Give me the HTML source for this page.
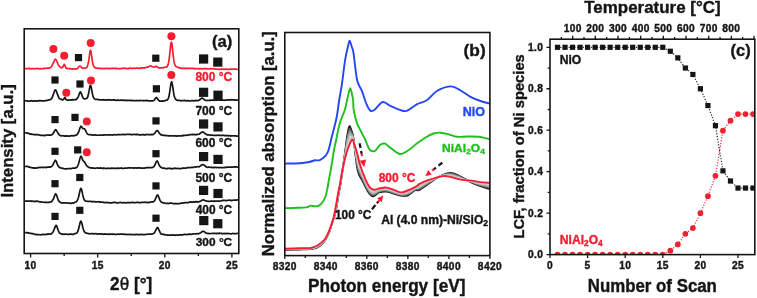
<!DOCTYPE html>
<html><head><meta charset="utf-8"><style>
html,body{margin:0;padding:0;background:#fff;}
body{width:757px;height:298px;overflow:hidden;}
svg{display:block;will-change:transform;}
.tk{stroke:#151515;stroke-width:0.4px;letter-spacing:0.35px;}
text{font-family:'Liberation Sans',sans-serif;font-weight:bold;}
</style></head><body>
<svg fill="#151515" width="757" height="298" viewBox="0 0 757 298">
<g fill="none" stroke-width="1.7" stroke-linejoin="round">
<path d="M25.00,68.54 L25.50,68.61 L25.99,68.57 L26.49,68.65 L26.98,68.70 L27.48,68.49 L27.97,68.34 L28.47,68.63 L28.96,68.53 L29.46,68.46 L29.95,68.76 L30.45,68.69 L30.94,68.81 L31.44,68.72 L31.93,68.74 L32.43,68.53 L32.93,68.63 L33.42,68.79 L33.92,68.72 L34.41,68.77 L34.91,68.77 L35.40,68.50 L35.90,68.66 L36.39,68.67 L36.89,68.54 L37.38,68.35 L37.88,68.61 L38.37,68.58 L38.87,68.67 L39.37,68.78 L39.86,68.77 L40.36,68.85 L40.85,68.65 L41.35,68.72 L41.84,68.59 L42.34,68.73 L42.83,68.78 L43.33,68.45 L43.82,68.28 L44.32,68.21 L44.81,68.49 L45.31,68.40 L45.80,68.41 L46.30,68.26 L46.80,68.25 L47.29,68.16 L47.79,68.07 L48.28,68.08 L48.78,68.02 L49.27,68.05 L49.77,67.86 L50.26,67.70 L50.76,67.35 L51.25,66.93 L51.75,66.18 L52.24,65.07 L52.74,64.24 L53.23,63.24 L53.73,62.09 L54.23,60.83 L54.72,59.91 L55.22,59.21 L55.71,59.44 L56.21,60.04 L56.70,60.89 L57.20,61.90 L57.69,63.35 L58.19,64.66 L58.68,65.32 L59.18,66.26 L59.67,66.79 L60.17,67.08 L60.67,67.37 L61.16,67.76 L61.66,67.99 L62.15,67.61 L62.65,67.30 L63.14,66.28 L63.64,65.30 L64.13,64.33 L64.63,64.80 L65.12,66.16 L65.62,67.23 L66.11,68.19 L66.61,68.40 L67.10,68.39 L67.60,68.61 L68.10,68.49 L68.59,68.51 L69.09,68.62 L69.58,68.79 L70.08,68.68 L70.57,68.58 L71.07,68.89 L71.56,68.82 L72.06,69.07 L72.55,69.17 L73.05,69.00 L73.54,68.94 L74.04,68.92 L74.53,68.96 L75.03,68.95 L75.53,68.90 L76.02,68.87 L76.52,68.94 L77.01,68.69 L77.51,68.35 L78.00,68.04 L78.50,67.33 L78.99,66.62 L79.49,66.33 L79.98,66.09 L80.48,66.37 L80.97,66.69 L81.47,67.30 L81.97,67.84 L82.46,67.93 L82.96,68.24 L83.45,68.38 L83.95,68.17 L84.44,68.26 L84.94,68.18 L85.43,68.15 L85.93,67.87 L86.42,67.68 L86.92,67.25 L87.41,66.13 L87.91,64.57 L88.40,62.56 L88.90,59.72 L89.40,55.81 L89.89,52.20 L90.39,50.24 L90.88,50.93 L91.38,53.96 L91.87,57.71 L92.37,61.13 L92.86,63.83 L93.36,65.51 L93.85,66.57 L94.35,67.37 L94.84,67.50 L95.34,67.83 L95.83,68.12 L96.33,68.12 L96.83,68.10 L97.32,68.36 L97.82,68.27 L98.31,68.22 L98.81,68.30 L99.30,68.47 L99.80,68.31 L100.29,68.32 L100.79,68.34 L101.28,68.57 L101.78,68.52 L102.27,68.68 L102.77,68.47 L103.27,68.42 L103.76,68.53 L104.26,68.70 L104.75,68.60 L105.25,68.44 L105.74,68.31 L106.24,68.41 L106.73,68.32 L107.23,68.54 L107.72,68.67 L108.22,68.45 L108.71,68.37 L109.21,68.56 L109.70,68.59 L110.20,68.67 L110.70,68.51 L111.19,68.33 L111.69,68.30 L112.18,68.50 L112.68,68.38 L113.17,68.35 L113.67,68.36 L114.16,68.36 L114.66,68.36 L115.15,68.58 L115.65,68.37 L116.14,68.18 L116.64,68.49 L117.13,68.64 L117.63,68.76 L118.13,68.59 L118.62,68.72 L119.12,68.78 L119.61,68.50 L120.11,68.58 L120.60,68.67 L121.10,68.63 L121.59,68.55 L122.09,68.41 L122.58,68.35 L123.08,68.26 L123.57,68.14 L124.07,68.30 L124.57,68.26 L125.06,68.46 L125.56,68.23 L126.05,68.48 L126.55,68.52 L127.04,68.64 L127.54,68.69 L128.03,68.71 L128.53,68.58 L129.02,68.25 L129.52,68.39 L130.01,68.21 L130.51,68.16 L131.00,68.29 L131.50,68.30 L132.00,68.25 L132.49,68.44 L132.99,68.40 L133.48,68.26 L133.98,68.13 L134.47,68.33 L134.97,68.26 L135.46,68.35 L135.96,68.21 L136.45,68.06 L136.95,68.12 L137.44,68.27 L137.94,68.06 L138.43,68.22 L138.93,68.36 L139.43,68.38 L139.92,68.39 L140.42,68.03 L140.91,68.10 L141.41,68.24 L141.90,67.95 L142.40,67.88 L142.89,67.84 L143.39,67.91 L143.88,67.90 L144.38,67.89 L144.87,67.99 L145.37,67.67 L145.87,67.47 L146.36,67.32 L146.86,67.15 L147.35,66.93 L147.85,67.08 L148.34,66.98 L148.84,66.47 L149.33,66.27 L149.83,66.04 L150.32,65.94 L150.82,66.00 L151.31,66.30 L151.81,66.57 L152.30,66.74 L152.80,66.84 L153.30,67.00 L153.79,66.99 L154.29,67.10 L154.78,67.10 L155.28,66.79 L155.77,66.39 L156.27,66.27 L156.76,66.52 L157.26,66.98 L157.75,67.45 L158.25,67.58 L158.74,67.86 L159.24,67.94 L159.73,67.89 L160.23,67.83 L160.73,67.84 L161.22,67.92 L161.72,67.83 L162.21,67.89 L162.71,67.79 L163.20,67.62 L163.70,67.61 L164.19,67.64 L164.69,67.32 L165.18,67.24 L165.68,67.10 L166.17,67.09 L166.67,66.92 L167.17,66.27 L167.66,65.63 L168.16,64.38 L168.65,62.14 L169.15,59.12 L169.64,54.92 L170.14,50.31 L170.63,45.56 L171.13,42.39 L171.62,42.25 L172.12,45.26 L172.61,50.02 L173.11,54.82 L173.60,58.72 L174.10,61.91 L174.60,63.82 L175.09,65.11 L175.59,66.19 L176.08,66.52 L176.58,66.77 L177.07,66.96 L177.57,67.46 L178.06,67.46 L178.56,67.43 L179.05,67.81 L179.55,67.72 L180.04,68.01 L180.54,68.12 L181.03,68.27 L181.53,68.41 L182.03,68.34 L182.52,68.41 L183.02,68.13 L183.51,68.30 L184.01,68.29 L184.50,68.39 L185.00,68.18 L185.49,68.35 L185.99,68.54 L186.48,68.26 L186.98,68.23 L187.47,68.33 L187.97,68.50 L188.47,68.35 L188.96,68.24 L189.46,68.22 L189.95,68.37 L190.45,68.52 L190.94,68.45 L191.44,68.40 L191.93,68.40 L192.43,68.38 L192.92,68.40 L193.42,68.27 L193.91,68.39 L194.41,68.67 L194.90,68.58 L195.40,68.68 L195.90,68.48 L196.39,68.62 L196.89,68.72 L197.38,68.75 L197.88,68.70 L198.37,68.66 L198.87,68.72 L199.36,68.86 L199.86,68.62 L200.35,68.47 L200.85,68.68 L201.34,68.87 L201.84,68.81 L202.33,68.74 L202.83,68.84 L203.33,68.66 L203.82,68.60 L204.32,68.54 L204.81,68.69 L205.31,68.65 L205.80,68.60 L206.30,68.78 L206.79,69.00 L207.29,68.84 L207.78,68.94 L208.28,68.86 L208.77,69.02 L209.27,69.00 L209.77,68.85 L210.26,68.75 L210.76,68.62 L211.25,68.75 L211.75,68.79 L212.24,68.72 L212.74,68.77 L213.23,68.78 L213.73,69.00 L214.22,68.84 L214.72,69.13 L215.21,69.07 L215.71,69.10 L216.20,69.06 L216.70,69.20 L217.20,69.28 L217.69,69.21 L218.19,69.14 L218.68,69.22 L219.18,69.32 L219.67,69.18 L220.17,69.25 L220.66,69.40 L221.16,69.27 L221.65,69.09 L222.15,69.00 L222.64,69.17 L223.14,69.25 L223.63,69.42 L224.13,69.47 L224.63,69.23 L225.12,69.08 L225.62,69.03 L226.11,68.97 L226.61,69.17 L227.10,69.35 L227.60,69.47 L228.09,69.26 L228.59,69.41 L229.08,69.25 L229.58,69.22 L230.07,69.33 L230.57,69.12 L231.07,69.00 L231.56,69.27 L232.06,69.18 L232.55,69.16 L233.05,69.25 L233.54,69.34 L234.04,69.09 L234.53,69.11 L235.03,69.16 L235.52,69.21 L236.02,69.12 L236.51,69.23 L237.01,69.46 L237.50,69.33 L238.00,69.33" stroke="#f71d31"/>
<path d="M25.00,101.04 L25.50,100.92 L25.99,100.97 L26.49,100.90 L26.98,100.81 L27.48,100.90 L27.97,101.18 L28.47,101.27 L28.96,101.30 L29.46,101.07 L29.95,101.07 L30.45,100.95 L30.94,100.83 L31.44,100.72 L31.93,100.71 L32.43,101.00 L32.93,101.11 L33.42,101.15 L33.92,101.17 L34.41,100.90 L34.91,100.79 L35.40,100.87 L35.90,100.95 L36.39,101.05 L36.89,101.10 L37.38,100.78 L37.88,100.83 L38.37,100.88 L38.87,100.83 L39.37,100.66 L39.86,100.69 L40.36,100.53 L40.85,100.81 L41.35,100.93 L41.84,100.85 L42.34,100.69 L42.83,100.86 L43.33,100.79 L43.82,100.88 L44.32,100.91 L44.81,100.76 L45.31,100.62 L45.80,100.61 L46.30,100.50 L46.80,100.31 L47.29,100.24 L47.79,100.39 L48.28,100.09 L48.78,99.88 L49.27,99.95 L49.77,99.75 L50.26,99.60 L50.76,99.30 L51.25,98.79 L51.75,98.40 L52.24,97.32 L52.74,96.18 L53.23,94.73 L53.73,93.35 L54.23,91.75 L54.72,90.46 L55.22,89.92 L55.71,89.92 L56.21,90.82 L56.70,92.34 L57.20,93.60 L57.69,94.90 L58.19,96.15 L58.68,97.41 L59.18,98.25 L59.67,98.68 L60.17,99.04 L60.67,99.21 L61.16,99.45 L61.66,99.41 L62.15,99.66 L62.65,99.82 L63.14,99.75 L63.64,99.27 L64.13,98.62 L64.63,97.62 L65.12,97.70 L65.62,98.72 L66.11,99.49 L66.61,99.78 L67.10,100.14 L67.60,100.17 L68.10,100.27 L68.59,100.09 L69.09,99.95 L69.58,99.98 L70.08,99.86 L70.57,99.90 L71.07,100.17 L71.56,100.04 L72.06,99.81 L72.55,99.69 L73.05,99.67 L73.54,99.91 L74.04,99.84 L74.53,99.74 L75.03,99.55 L75.53,99.79 L76.02,99.58 L76.52,99.21 L77.01,98.71 L77.51,98.06 L78.00,97.23 L78.50,96.32 L78.99,94.83 L79.49,93.27 L79.98,92.27 L80.48,91.87 L80.97,92.79 L81.47,93.81 L81.97,95.27 L82.46,96.67 L82.96,97.57 L83.45,98.45 L83.95,98.76 L84.44,98.82 L84.94,98.89 L85.43,98.70 L85.93,98.66 L86.42,98.39 L86.92,98.22 L87.41,97.61 L87.91,96.34 L88.40,94.32 L88.90,91.93 L89.40,89.17 L89.89,86.59 L90.39,85.19 L90.88,86.01 L91.38,87.99 L91.87,90.60 L92.37,93.49 L92.86,95.55 L93.36,97.20 L93.85,97.99 L94.35,98.70 L94.84,99.01 L95.34,99.27 L95.83,99.41 L96.33,99.41 L96.83,99.25 L97.32,99.23 L97.82,99.53 L98.31,99.72 L98.81,99.85 L99.30,99.67 L99.80,99.73 L100.29,99.83 L100.79,99.83 L101.28,99.91 L101.78,99.83 L102.27,99.85 L102.77,99.89 L103.27,99.72 L103.76,99.93 L104.26,100.06 L104.75,99.75 L105.25,99.98 L105.74,100.11 L106.24,100.06 L106.73,99.76 L107.23,99.98 L107.72,99.76 L108.22,100.02 L108.71,100.04 L109.21,99.78 L109.70,99.70 L110.20,99.86 L110.70,99.93 L111.19,100.05 L111.69,100.20 L112.18,99.98 L112.68,99.77 L113.17,100.06 L113.67,99.83 L114.16,100.09 L114.66,99.90 L115.15,100.11 L115.65,100.22 L116.14,100.33 L116.64,100.25 L117.13,100.36 L117.63,100.13 L118.13,100.21 L118.62,100.12 L119.12,100.32 L119.61,100.38 L120.11,100.29 L120.60,100.27 L121.10,100.05 L121.59,99.94 L122.09,100.13 L122.58,100.19 L123.08,100.40 L123.57,100.41 L124.07,100.21 L124.57,100.21 L125.06,100.39 L125.56,100.39 L126.05,100.17 L126.55,100.42 L127.04,100.56 L127.54,100.31 L128.03,100.39 L128.53,100.36 L129.02,100.53 L129.52,100.42 L130.01,100.33 L130.51,100.40 L131.00,100.65 L131.50,100.41 L132.00,100.29 L132.49,100.45 L132.99,100.66 L133.48,100.62 L133.98,100.56 L134.47,100.72 L134.97,100.78 L135.46,100.50 L135.96,100.71 L136.45,100.52 L136.95,100.47 L137.44,100.68 L137.94,100.61 L138.43,100.75 L138.93,100.54 L139.43,100.74 L139.92,100.55 L140.42,100.43 L140.91,100.51 L141.41,100.49 L141.90,100.57 L142.40,100.77 L142.89,100.80 L143.39,100.50 L143.88,100.47 L144.38,100.55 L144.87,100.57 L145.37,100.69 L145.87,100.66 L146.36,100.46 L146.86,100.44 L147.35,100.70 L147.85,100.63 L148.34,100.78 L148.84,100.97 L149.33,100.92 L149.83,100.93 L150.32,100.91 L150.82,100.77 L151.31,100.96 L151.81,100.86 L152.30,100.98 L152.80,100.74 L153.30,100.77 L153.79,100.57 L154.29,100.12 L154.78,99.41 L155.28,98.47 L155.77,97.93 L156.27,97.52 L156.76,97.90 L157.26,98.45 L157.75,99.13 L158.25,99.76 L158.74,100.50 L159.24,100.66 L159.73,101.08 L160.23,101.07 L160.73,101.15 L161.22,101.09 L161.72,101.16 L162.21,100.96 L162.71,100.97 L163.20,101.18 L163.70,100.94 L164.19,100.98 L164.69,100.81 L165.18,100.66 L165.68,100.38 L166.17,100.12 L166.67,100.25 L167.17,100.06 L167.66,99.59 L168.16,98.78 L168.65,97.53 L169.15,95.24 L169.64,92.54 L170.14,89.16 L170.63,85.60 L171.13,82.83 L171.62,81.73 L172.12,83.11 L172.61,85.80 L173.11,89.40 L173.60,92.70 L174.10,95.36 L174.60,97.21 L175.09,98.54 L175.59,99.13 L176.08,99.78 L176.58,99.93 L177.07,100.14 L177.57,100.41 L178.06,100.49 L178.56,100.39 L179.05,100.32 L179.55,100.33 L180.04,100.49 L180.54,100.74 L181.03,100.85 L181.53,100.70 L182.03,100.62 L182.52,100.77 L183.02,100.63 L183.51,100.61 L184.01,100.43 L184.50,100.42 L185.00,100.57 L185.49,100.72 L185.99,100.77 L186.48,100.70 L186.98,100.91 L187.47,100.89 L187.97,100.67 L188.47,100.51 L188.96,100.82 L189.46,101.00 L189.95,101.06 L190.45,100.96 L190.94,100.77 L191.44,100.57 L191.93,100.52 L192.43,100.48 L192.92,100.76 L193.42,100.90 L193.91,100.92 L194.41,100.64 L194.90,100.52 L195.40,100.47 L195.90,100.72 L196.39,100.50 L196.89,100.63 L197.38,100.63 L197.88,100.53 L198.37,100.60 L198.87,100.24 L199.36,100.04 L199.86,99.61 L200.35,99.17 L200.85,98.71 L201.34,98.43 L201.84,98.13 L202.33,98.02 L202.83,98.55 L203.33,98.75 L203.82,99.30 L204.32,99.66 L204.81,99.95 L205.31,100.14 L205.80,100.40 L206.30,100.52 L206.79,100.53 L207.29,100.46 L207.78,100.48 L208.28,100.50 L208.77,100.43 L209.27,100.37 L209.77,100.18 L210.26,100.37 L210.76,100.32 L211.25,100.10 L211.75,100.02 L212.24,100.28 L212.74,100.14 L213.23,100.12 L213.73,100.24 L214.22,100.37 L214.72,100.20 L215.21,100.13 L215.71,100.10 L216.20,99.91 L216.70,100.17 L217.20,99.92 L217.69,100.20 L218.19,99.99 L218.68,99.87 L219.18,100.10 L219.67,100.22 L220.17,100.01 L220.66,100.04 L221.16,100.01 L221.65,100.10 L222.15,99.90 L222.64,100.07 L223.14,100.24 L223.63,100.20 L224.13,100.26 L224.63,100.30 L225.12,100.07 L225.62,100.15 L226.11,100.18 L226.61,100.09 L227.10,99.82 L227.60,99.89 L228.09,100.06 L228.59,99.88 L229.08,99.93 L229.58,100.06 L230.07,100.00 L230.57,99.72 L231.07,99.82 L231.56,99.71 L232.06,99.91 L232.55,99.94 L233.05,99.79 L233.54,99.97 L234.04,99.94 L234.53,99.81 L235.03,99.95 L235.52,100.05 L236.02,100.10 L236.51,100.13 L237.01,100.04 L237.50,100.02 L238.00,99.96" stroke="#151515"/>
<path d="M25.00,132.63 L25.50,132.73 L25.99,132.84 L26.49,133.02 L26.98,133.09 L27.48,133.28 L27.97,133.07 L28.47,133.23 L28.96,133.61 L29.46,133.77 L29.95,134.05 L30.45,133.94 L30.94,134.10 L31.44,134.15 L31.93,134.36 L32.43,134.52 L32.93,134.38 L33.42,134.40 L33.92,134.43 L34.41,134.72 L34.91,134.82 L35.40,134.62 L35.90,134.81 L36.39,134.64 L36.89,134.78 L37.38,134.66 L37.88,134.57 L38.37,134.92 L38.87,134.85 L39.37,134.83 L39.86,135.18 L40.36,135.35 L40.85,135.20 L41.35,135.43 L41.84,135.38 L42.34,135.42 L42.83,135.24 L43.33,135.47 L43.82,135.47 L44.32,135.59 L44.81,135.62 L45.31,135.38 L45.80,135.26 L46.30,135.11 L46.80,135.02 L47.29,134.93 L47.79,134.98 L48.28,135.13 L48.78,134.94 L49.27,135.12 L49.77,135.05 L50.26,134.97 L50.76,135.10 L51.25,134.95 L51.75,134.66 L52.24,134.39 L52.74,134.05 L53.23,133.21 L53.73,132.70 L54.23,131.51 L54.72,130.74 L55.22,130.15 L55.71,129.60 L56.21,130.12 L56.70,130.82 L57.20,131.85 L57.69,132.60 L58.19,133.32 L58.68,133.97 L59.18,134.79 L59.67,134.98 L60.17,135.37 L60.67,135.69 L61.16,135.90 L61.66,135.77 L62.15,135.72 L62.65,135.78 L63.14,135.94 L63.64,135.75 L64.13,135.93 L64.63,136.07 L65.12,136.17 L65.62,135.88 L66.11,136.12 L66.61,135.88 L67.10,135.86 L67.60,135.96 L68.10,136.16 L68.59,136.00 L69.09,136.17 L69.58,136.09 L70.08,135.94 L70.57,135.84 L71.07,135.72 L71.56,135.59 L72.06,135.54 L72.55,135.72 L73.05,135.93 L73.54,135.66 L74.04,135.42 L74.53,135.66 L75.03,135.54 L75.53,135.35 L76.02,135.06 L76.52,134.92 L77.01,134.71 L77.51,134.11 L78.00,133.30 L78.50,132.09 L78.99,131.09 L79.49,129.39 L79.98,127.98 L80.48,126.97 L80.97,126.20 L81.47,126.53 L81.97,127.36 L82.46,128.04 L82.96,128.63 L83.45,128.65 L83.95,128.77 L84.44,128.85 L84.94,129.58 L85.43,130.25 L85.93,131.18 L86.42,132.33 L86.92,133.18 L87.41,133.89 L87.91,134.16 L88.40,134.40 L88.90,134.67 L89.40,134.73 L89.89,134.69 L90.39,134.74 L90.88,134.66 L91.38,134.72 L91.87,135.04 L92.37,135.20 L92.86,135.16 L93.36,135.08 L93.85,134.97 L94.35,134.81 L94.84,134.81 L95.34,135.04 L95.83,135.20 L96.33,135.08 L96.83,135.19 L97.32,135.25 L97.82,135.25 L98.31,135.24 L98.81,135.27 L99.30,135.11 L99.80,135.17 L100.29,135.01 L100.79,135.01 L101.28,135.13 L101.78,135.16 L102.27,134.99 L102.77,135.18 L103.27,135.15 L103.76,135.10 L104.26,134.81 L104.75,134.88 L105.25,134.78 L105.74,134.90 L106.24,134.87 L106.73,135.00 L107.23,134.99 L107.72,135.05 L108.22,134.87 L108.71,134.90 L109.21,134.94 L109.70,135.00 L110.20,134.82 L110.70,134.92 L111.19,134.99 L111.69,134.94 L112.18,135.03 L112.68,135.06 L113.17,134.89 L113.67,134.79 L114.16,134.57 L114.66,134.74 L115.15,134.87 L115.65,134.74 L116.14,134.76 L116.64,134.78 L117.13,134.79 L117.63,134.55 L118.13,134.68 L118.62,134.67 L119.12,134.70 L119.61,134.60 L120.11,134.64 L120.60,134.73 L121.10,134.72 L121.59,134.75 L122.09,134.46 L122.58,134.36 L123.08,134.43 L123.57,134.57 L124.07,134.45 L124.57,134.59 L125.06,134.65 L125.56,134.42 L126.05,134.48 L126.55,134.41 L127.04,134.30 L127.54,134.27 L128.03,134.34 L128.53,134.32 L129.02,134.31 L129.52,134.24 L130.01,134.39 L130.51,134.44 L131.00,134.57 L131.50,134.63 L132.00,134.51 L132.49,134.74 L132.99,134.47 L133.48,134.50 L133.98,134.46 L134.47,134.50 L134.97,134.40 L135.46,134.65 L135.96,134.59 L136.45,134.41 L136.95,134.57 L137.44,134.43 L137.94,134.55 L138.43,134.52 L138.93,134.62 L139.43,134.83 L139.92,134.89 L140.42,134.75 L140.91,134.84 L141.41,134.82 L141.90,134.68 L142.40,134.51 L142.89,134.61 L143.39,134.65 L143.88,134.84 L144.38,134.95 L144.87,134.85 L145.37,134.69 L145.87,134.83 L146.36,134.52 L146.86,134.40 L147.35,134.53 L147.85,134.62 L148.34,134.47 L148.84,134.60 L149.33,134.78 L149.83,134.65 L150.32,134.60 L150.82,134.48 L151.31,134.42 L151.81,134.67 L152.30,134.50 L152.80,134.60 L153.30,134.53 L153.79,134.18 L154.29,133.60 L154.78,133.29 L155.28,132.54 L155.77,131.72 L156.27,130.93 L156.76,130.70 L157.26,130.56 L157.75,130.82 L158.25,131.53 L158.74,132.17 L159.24,133.06 L159.73,133.68 L160.23,134.09 L160.73,134.62 L161.22,134.99 L161.72,134.87 L162.21,135.06 L162.71,135.07 L163.20,135.40 L163.70,135.53 L164.19,135.38 L164.69,135.33 L165.18,135.27 L165.68,135.63 L166.17,135.53 L166.67,135.63 L167.17,135.64 L167.66,135.73 L168.16,135.78 L168.65,135.88 L169.15,135.67 L169.64,135.85 L170.14,135.75 L170.63,135.81 L171.13,135.76 L171.62,135.73 L172.12,135.82 L172.61,135.85 L173.11,135.82 L173.60,135.98 L174.10,136.00 L174.60,135.78 L175.09,135.75 L175.59,135.82 L176.08,136.07 L176.58,136.19 L177.07,136.11 L177.57,135.83 L178.06,136.00 L178.56,135.93 L179.05,135.95 L179.55,136.01 L180.04,135.99 L180.54,135.89 L181.03,136.01 L181.53,135.82 L182.03,135.70 L182.52,135.81 L183.02,135.56 L183.51,135.44 L184.01,135.58 L184.50,135.30 L185.00,135.45 L185.49,135.45 L185.99,135.30 L186.48,135.13 L186.98,135.22 L187.47,135.31 L187.97,134.99 L188.47,134.93 L188.96,134.91 L189.46,134.85 L189.95,134.73 L190.45,134.56 L190.94,134.64 L191.44,134.77 L191.93,134.49 L192.43,134.40 L192.92,134.60 L193.42,134.69 L193.91,134.67 L194.41,134.37 L194.90,134.51 L195.40,134.69 L195.90,134.80 L196.39,134.71 L196.89,134.36 L197.38,134.49 L197.88,134.25 L198.37,134.24 L198.87,134.28 L199.36,134.08 L199.86,133.55 L200.35,133.15 L200.85,133.00 L201.34,132.40 L201.84,132.17 L202.33,131.97 L202.83,131.90 L203.33,132.31 L203.82,132.53 L204.32,132.90 L204.81,133.39 L205.31,133.66 L205.80,133.90 L206.30,134.31 L206.79,134.66 L207.29,134.95 L207.78,134.80 L208.28,134.87 L208.77,134.87 L209.27,135.02 L209.77,135.07 L210.26,135.30 L210.76,135.20 L211.25,135.01 L211.75,135.21 L212.24,135.08 L212.74,135.23 L213.23,135.27 L213.73,135.47 L214.22,135.44 L214.72,135.45 L215.21,135.30 L215.71,135.35 L216.20,135.25 L216.70,135.41 L217.20,135.40 L217.69,135.23 L218.19,135.18 L218.68,135.22 L219.18,135.40 L219.67,135.26 L220.17,135.43 L220.66,135.50 L221.16,135.29 L221.65,135.45 L222.15,135.28 L222.64,135.22 L223.14,135.39 L223.63,135.34 L224.13,135.61 L224.63,135.59 L225.12,135.52 L225.62,135.70 L226.11,135.47 L226.61,135.66 L227.10,135.48 L227.60,135.43 L228.09,135.77 L228.59,135.85 L229.08,135.70 L229.58,135.58 L230.07,135.90 L230.57,135.95 L231.07,136.05 L231.56,135.82 L232.06,135.91 L232.55,135.85 L233.05,135.77 L233.54,135.77 L234.04,135.91 L234.53,135.87 L235.03,135.86 L235.52,135.76 L236.02,136.01 L236.51,136.06 L237.01,136.17 L237.50,136.06 L238.00,136.18" stroke="#151515"/>
<path d="M25.00,166.40 L25.50,166.50 L25.99,166.43 L26.49,166.34 L26.98,166.22 L27.48,166.50 L27.97,166.64 L28.47,166.91 L28.96,166.95 L29.46,167.22 L29.95,167.21 L30.45,167.50 L30.94,167.68 L31.44,167.69 L31.93,167.79 L32.43,167.94 L32.93,167.82 L33.42,167.92 L33.92,168.08 L34.41,167.91 L34.91,168.05 L35.40,168.06 L35.90,168.12 L36.39,167.92 L36.89,167.67 L37.38,167.83 L37.88,167.90 L38.37,167.75 L38.87,167.50 L39.37,167.38 L39.86,167.48 L40.36,167.37 L40.85,167.58 L41.35,167.51 L41.84,167.29 L42.34,167.36 L42.83,167.26 L43.33,167.45 L43.82,167.54 L44.32,167.41 L44.81,167.40 L45.31,167.41 L45.80,167.46 L46.30,167.56 L46.80,167.20 L47.29,167.14 L47.79,167.21 L48.28,167.11 L48.78,167.17 L49.27,166.97 L49.77,167.18 L50.26,167.09 L50.76,166.79 L51.25,166.74 L51.75,166.35 L52.24,165.78 L52.74,165.18 L53.23,164.16 L53.73,163.02 L54.23,162.10 L54.72,161.12 L55.22,160.28 L55.71,160.62 L56.21,161.22 L56.70,162.44 L57.20,163.97 L57.69,165.13 L58.19,165.94 L58.68,166.60 L59.18,167.09 L59.67,167.32 L60.17,167.87 L60.67,167.80 L61.16,167.96 L61.66,168.21 L62.15,168.23 L62.65,168.52 L63.14,168.37 L63.64,168.64 L64.13,168.76 L64.63,168.74 L65.12,168.84 L65.62,168.71 L66.11,168.81 L66.61,168.86 L67.10,168.77 L67.60,168.70 L68.10,168.76 L68.59,168.66 L69.09,168.45 L69.58,168.63 L70.08,168.50 L70.57,168.52 L71.07,168.64 L71.56,168.43 L72.06,168.22 L72.55,168.13 L73.05,168.26 L73.54,168.20 L74.04,168.09 L74.53,168.06 L75.03,168.19 L75.53,167.88 L76.02,167.65 L76.52,167.54 L77.01,167.08 L77.51,166.24 L78.00,165.26 L78.50,163.94 L78.99,162.11 L79.49,160.21 L79.98,158.26 L80.48,156.94 L80.97,156.21 L81.47,156.72 L81.97,158.02 L82.46,159.40 L82.96,160.30 L83.45,161.07 L83.95,161.46 L84.44,161.90 L84.94,162.56 L85.43,163.55 L85.93,164.61 L86.42,165.28 L86.92,165.79 L87.41,166.44 L87.91,166.74 L88.40,166.97 L88.90,167.45 L89.40,167.46 L89.89,167.75 L90.39,167.76 L90.88,168.04 L91.38,168.17 L91.87,167.90 L92.37,167.82 L92.86,168.12 L93.36,168.14 L93.85,168.08 L94.35,168.21 L94.84,168.30 L95.34,168.22 L95.83,168.16 L96.33,167.98 L96.83,168.00 L97.32,167.91 L97.82,168.08 L98.31,168.17 L98.81,168.02 L99.30,168.15 L99.80,167.99 L100.29,167.91 L100.79,168.11 L101.28,168.13 L101.78,168.34 L102.27,168.34 L102.77,168.37 L103.27,168.14 L103.76,168.32 L104.26,168.10 L104.75,168.21 L105.25,168.40 L105.74,168.50 L106.24,168.56 L106.73,168.39 L107.23,168.41 L107.72,168.46 L108.22,168.20 L108.71,168.42 L109.21,168.52 L109.70,168.37 L110.20,168.44 L110.70,168.33 L111.19,168.20 L111.69,168.32 L112.18,168.10 L112.68,168.30 L113.17,168.49 L113.67,168.29 L114.16,168.47 L114.66,168.19 L115.15,168.38 L115.65,168.23 L116.14,168.45 L116.64,168.33 L117.13,168.49 L117.63,168.18 L118.13,168.03 L118.62,168.28 L119.12,168.33 L119.61,168.32 L120.11,168.09 L120.60,168.02 L121.10,168.07 L121.59,167.96 L122.09,168.31 L122.58,168.40 L123.08,168.53 L123.57,168.49 L124.07,168.31 L124.57,168.09 L125.06,168.25 L125.56,168.07 L126.05,168.15 L126.55,168.16 L127.04,168.17 L127.54,167.99 L128.03,167.89 L128.53,168.02 L129.02,167.88 L129.52,168.01 L130.01,167.91 L130.51,167.92 L131.00,167.85 L131.50,168.00 L132.00,167.99 L132.49,167.91 L132.99,167.86 L133.48,167.98 L133.98,168.20 L134.47,168.09 L134.97,167.92 L135.46,167.89 L135.96,167.83 L136.45,167.94 L136.95,168.09 L137.44,168.08 L137.94,167.90 L138.43,167.85 L138.93,167.85 L139.43,167.87 L139.92,167.86 L140.42,168.12 L140.91,168.06 L141.41,168.07 L141.90,168.10 L142.40,168.08 L142.89,168.14 L143.39,167.98 L143.88,168.02 L144.38,168.17 L144.87,167.89 L145.37,167.94 L145.87,167.86 L146.36,167.67 L146.86,167.55 L147.35,167.80 L147.85,167.65 L148.34,167.82 L148.84,167.64 L149.33,167.65 L149.83,167.49 L150.32,167.62 L150.82,167.77 L151.31,167.58 L151.81,167.58 L152.30,167.67 L152.80,167.32 L153.30,167.03 L153.79,166.72 L154.29,166.23 L154.78,165.17 L155.28,164.24 L155.77,162.90 L156.27,161.70 L156.76,161.26 L157.26,160.92 L157.75,161.75 L158.25,162.86 L158.74,164.05 L159.24,165.18 L159.73,166.09 L160.23,166.63 L160.73,167.11 L161.22,167.34 L161.72,167.80 L162.21,168.05 L162.71,168.21 L163.20,168.07 L163.70,168.18 L164.19,168.11 L164.69,168.32 L165.18,168.43 L165.68,168.62 L166.17,168.61 L166.67,168.60 L167.17,168.65 L167.66,168.39 L168.16,168.48 L168.65,168.28 L169.15,168.33 L169.64,168.26 L170.14,168.59 L170.63,168.37 L171.13,168.65 L171.62,168.82 L172.12,168.69 L172.61,168.80 L173.11,168.52 L173.60,168.41 L174.10,168.30 L174.60,168.26 L175.09,168.21 L175.59,168.55 L176.08,168.41 L176.58,168.56 L177.07,168.50 L177.57,168.40 L178.06,168.47 L178.56,168.39 L179.05,168.69 L179.55,168.58 L180.04,168.59 L180.54,168.57 L181.03,168.56 L181.53,168.47 L182.03,168.30 L182.52,168.13 L183.02,168.34 L183.51,168.12 L184.01,168.08 L184.50,168.19 L185.00,168.12 L185.49,168.21 L185.99,168.18 L186.48,167.99 L186.98,167.69 L187.47,167.71 L187.97,167.63 L188.47,167.74 L188.96,167.62 L189.46,167.61 L189.95,167.63 L190.45,167.47 L190.94,167.52 L191.44,167.56 L191.93,167.24 L192.43,167.38 L192.92,167.43 L193.42,167.44 L193.91,167.21 L194.41,167.04 L194.90,166.89 L195.40,166.91 L195.90,167.12 L196.39,167.01 L196.89,166.78 L197.38,166.76 L197.88,166.62 L198.37,166.73 L198.87,166.78 L199.36,166.78 L199.86,166.26 L200.35,165.93 L200.85,165.42 L201.34,165.27 L201.84,164.97 L202.33,164.56 L202.83,164.57 L203.33,164.56 L203.82,164.93 L204.32,165.26 L204.81,165.61 L205.31,166.25 L205.80,166.66 L206.30,166.86 L206.79,167.15 L207.29,167.24 L207.78,167.39 L208.28,167.16 L208.77,167.08 L209.27,167.04 L209.77,167.25 L210.26,167.42 L210.76,167.28 L211.25,167.36 L211.75,167.24 L212.24,167.44 L212.74,167.59 L213.23,167.38 L213.73,167.66 L214.22,167.67 L214.72,167.45 L215.21,167.43 L215.71,167.34 L216.20,167.54 L216.70,167.73 L217.20,167.51 L217.69,167.39 L218.19,167.52 L218.68,167.70 L219.18,167.73 L219.67,167.63 L220.17,167.41 L220.66,167.51 L221.16,167.49 L221.65,167.62 L222.15,167.59 L222.64,167.63 L223.14,167.75 L223.63,167.66 L224.13,167.72 L224.63,167.47 L225.12,167.20 L225.62,167.43 L226.11,167.17 L226.61,167.45 L227.10,167.35 L227.60,167.11 L228.09,167.07 L228.59,167.23 L229.08,167.16 L229.58,167.22 L230.07,167.01 L230.57,167.21 L231.07,167.11 L231.56,167.25 L232.06,167.02 L232.55,167.11 L233.05,167.07 L233.54,167.01 L234.04,166.81 L234.53,166.91 L235.03,167.10 L235.52,166.88 L236.02,166.91 L236.51,166.73 L237.01,167.06 L237.50,167.24 L238.00,167.20" stroke="#151515"/>
<path d="M25.00,201.19 L25.50,201.07 L25.99,201.23 L26.49,201.06 L26.98,201.17 L27.48,201.16 L27.97,201.02 L28.47,201.15 L28.96,201.01 L29.46,201.11 L29.95,201.01 L30.45,200.97 L30.94,201.09 L31.44,201.34 L31.93,201.17 L32.43,201.12 L32.93,201.28 L33.42,201.50 L33.92,201.46 L34.41,201.36 L34.91,201.56 L35.40,201.26 L35.90,201.45 L36.39,201.31 L36.89,201.19 L37.38,201.15 L37.88,201.24 L38.37,201.56 L38.87,201.50 L39.37,201.69 L39.86,201.87 L40.36,201.90 L40.85,202.03 L41.35,201.93 L41.84,201.90 L42.34,201.97 L42.83,202.23 L43.33,202.26 L43.82,202.23 L44.32,202.31 L44.81,202.29 L45.31,202.21 L45.80,202.38 L46.30,202.42 L46.80,202.24 L47.29,202.28 L47.79,202.27 L48.28,202.40 L48.78,202.40 L49.27,202.18 L49.77,202.33 L50.26,201.99 L50.76,201.86 L51.25,201.81 L51.75,201.33 L52.24,200.91 L52.74,200.05 L53.23,199.27 L53.73,198.19 L54.23,196.76 L54.72,195.45 L55.22,194.14 L55.71,193.81 L56.21,194.31 L56.70,195.51 L57.20,196.95 L57.69,198.57 L58.19,199.96 L58.68,200.81 L59.18,201.55 L59.67,201.79 L60.17,202.27 L60.67,202.55 L61.16,202.89 L61.66,203.03 L62.15,202.90 L62.65,202.89 L63.14,203.03 L63.64,202.84 L64.13,202.95 L64.63,202.89 L65.12,202.84 L65.62,202.80 L66.11,203.10 L66.61,202.98 L67.10,202.97 L67.60,203.03 L68.10,203.27 L68.59,203.05 L69.09,203.09 L69.58,203.15 L70.08,203.31 L70.57,203.36 L71.07,203.39 L71.56,203.13 L72.06,203.02 L72.55,202.90 L73.05,203.04 L73.54,203.10 L74.04,202.73 L74.53,202.48 L75.03,202.28 L75.53,202.07 L76.02,201.90 L76.52,201.61 L77.01,200.95 L77.51,199.94 L78.00,198.81 L78.50,197.18 L78.99,195.21 L79.49,193.06 L79.98,190.73 L80.48,188.89 L80.97,188.34 L81.47,189.25 L81.97,190.92 L82.46,193.46 L82.96,195.76 L83.45,197.72 L83.95,199.17 L84.44,200.02 L84.94,200.61 L85.43,200.86 L85.93,201.26 L86.42,201.25 L86.92,201.26 L87.41,201.34 L87.91,201.37 L88.40,201.48 L88.90,201.41 L89.40,201.36 L89.89,201.40 L90.39,201.40 L90.88,201.52 L91.38,201.44 L91.87,201.77 L92.37,201.84 L92.86,201.67 L93.36,201.63 L93.85,201.65 L94.35,201.68 L94.84,201.59 L95.34,201.86 L95.83,202.09 L96.33,201.99 L96.83,201.95 L97.32,201.77 L97.82,201.69 L98.31,201.77 L98.81,201.80 L99.30,202.07 L99.80,201.95 L100.29,201.84 L100.79,202.21 L101.28,202.25 L101.78,202.12 L102.27,202.24 L102.77,202.10 L103.27,202.26 L103.76,202.56 L104.26,202.69 L104.75,202.71 L105.25,202.54 L105.74,202.50 L106.24,202.40 L106.73,202.62 L107.23,202.64 L107.72,202.77 L108.22,202.64 L108.71,202.53 L109.21,202.72 L109.70,202.90 L110.20,202.95 L110.70,202.95 L111.19,202.96 L111.69,202.92 L112.18,202.68 L112.68,202.68 L113.17,202.60 L113.67,202.42 L114.16,202.31 L114.66,202.37 L115.15,202.38 L115.65,202.58 L116.14,202.81 L116.64,202.71 L117.13,202.87 L117.63,202.98 L118.13,203.02 L118.62,202.78 L119.12,202.59 L119.61,202.48 L120.11,202.41 L120.60,202.37 L121.10,202.53 L121.59,202.74 L122.09,202.83 L122.58,202.71 L123.08,202.73 L123.57,202.79 L124.07,202.52 L124.57,202.61 L125.06,202.78 L125.56,202.81 L126.05,202.81 L126.55,202.69 L127.04,202.49 L127.54,202.64 L128.03,202.52 L128.53,202.66 L129.02,202.81 L129.52,202.64 L130.01,202.55 L130.51,202.73 L131.00,202.73 L131.50,202.49 L132.00,202.33 L132.49,202.26 L132.99,202.54 L133.48,202.66 L133.98,202.43 L134.47,202.60 L134.97,202.76 L135.46,202.70 L135.96,202.53 L136.45,202.52 L136.95,202.33 L137.44,202.18 L137.94,202.51 L138.43,202.55 L138.93,202.52 L139.43,202.67 L139.92,202.54 L140.42,202.66 L140.91,202.70 L141.41,202.45 L141.90,202.33 L142.40,202.28 L142.89,202.22 L143.39,202.34 L143.88,202.26 L144.38,202.29 L144.87,202.17 L145.37,202.45 L145.87,202.35 L146.36,202.34 L146.86,202.39 L147.35,202.56 L147.85,202.43 L148.34,202.58 L148.84,202.47 L149.33,202.42 L149.83,202.38 L150.32,202.12 L150.82,202.15 L151.31,202.03 L151.81,201.85 L152.30,202.06 L152.80,201.81 L153.30,201.67 L153.79,201.50 L154.29,201.02 L154.78,200.22 L155.28,199.31 L155.77,198.20 L156.27,197.06 L156.76,195.68 L157.26,195.04 L157.75,194.98 L158.25,195.71 L158.74,197.11 L159.24,198.41 L159.73,199.62 L160.23,200.70 L160.73,201.56 L161.22,201.95 L161.72,202.31 L162.21,202.51 L162.71,202.65 L163.20,202.84 L163.70,202.87 L164.19,202.94 L164.69,202.98 L165.18,203.23 L165.68,203.28 L166.17,203.40 L166.67,203.51 L167.17,203.29 L167.66,203.31 L168.16,203.51 L168.65,203.58 L169.15,203.33 L169.64,203.19 L170.14,203.26 L170.63,203.15 L171.13,203.17 L171.62,203.12 L172.12,203.35 L172.61,203.54 L173.11,203.70 L173.60,203.47 L174.10,203.59 L174.60,203.63 L175.09,203.44 L175.59,203.65 L176.08,203.81 L176.58,203.57 L177.07,203.76 L177.57,203.62 L178.06,203.57 L178.56,203.76 L179.05,203.78 L179.55,203.48 L180.04,203.42 L180.54,203.40 L181.03,203.29 L181.53,203.15 L182.03,203.10 L182.52,203.22 L183.02,202.95 L183.51,203.01 L184.01,202.96 L184.50,202.72 L185.00,202.69 L185.49,202.77 L185.99,202.74 L186.48,202.49 L186.98,202.73 L187.47,202.74 L187.97,202.80 L188.47,202.42 L188.96,202.26 L189.46,202.04 L189.95,202.23 L190.45,202.08 L190.94,201.92 L191.44,201.95 L191.93,202.16 L192.43,202.22 L192.92,202.00 L193.42,201.82 L193.91,202.05 L194.41,202.02 L194.90,202.06 L195.40,201.81 L195.90,201.66 L196.39,201.84 L196.89,201.81 L197.38,201.63 L197.88,201.89 L198.37,201.87 L198.87,201.88 L199.36,201.51 L199.86,201.54 L200.35,201.09 L200.85,201.03 L201.34,200.64 L201.84,200.22 L202.33,199.98 L202.83,200.03 L203.33,199.90 L203.82,199.96 L204.32,200.34 L204.81,200.56 L205.31,200.71 L205.80,200.88 L206.30,200.95 L206.79,201.07 L207.29,201.18 L207.78,201.24 L208.28,201.46 L208.77,201.37 L209.27,201.40 L209.77,201.27 L210.26,201.26 L210.76,201.10 L211.25,201.10 L211.75,200.99 L212.24,201.23 L212.74,201.27 L213.23,201.12 L213.73,201.14 L214.22,201.35 L214.72,201.08 L215.21,201.24 L215.71,201.14 L216.20,201.10 L216.70,201.21 L217.20,201.06 L217.69,201.02 L218.19,201.06 L218.68,201.20 L219.18,200.98 L219.67,201.06 L220.17,201.04 L220.66,200.98 L221.16,200.83 L221.65,200.71 L222.15,200.50 L222.64,200.41 L223.14,200.32 L223.63,200.55 L224.13,200.46 L224.63,200.35 L225.12,200.25 L225.62,200.51 L226.11,200.66 L226.61,200.64 L227.10,200.45 L227.60,200.32 L228.09,200.26 L228.59,200.29 L229.08,200.17 L229.58,200.22 L230.07,200.16 L230.57,200.42 L231.07,200.57 L231.56,200.45 L232.06,200.25 L232.55,200.45 L233.05,200.27 L233.54,200.19 L234.04,199.98 L234.53,200.03 L235.03,200.10 L235.52,200.14 L236.02,200.04 L236.51,200.11 L237.01,199.93 L237.50,199.94 L238.00,199.87" stroke="#151515"/>
<path d="M25.00,232.55 L25.50,232.81 L25.99,232.61 L26.49,232.77 L26.98,232.61 L27.48,232.63 L27.97,233.00 L28.47,232.90 L28.96,233.08 L29.46,233.14 L29.95,233.22 L30.45,233.34 L30.94,233.32 L31.44,233.64 L31.93,233.55 L32.43,233.61 L32.93,233.60 L33.42,233.75 L33.92,233.94 L34.41,234.31 L34.91,234.32 L35.40,234.24 L35.90,234.29 L36.39,234.67 L36.89,234.49 L37.38,234.64 L37.88,234.63 L38.37,234.75 L38.87,234.67 L39.37,234.77 L39.86,234.74 L40.36,234.77 L40.85,234.89 L41.35,234.81 L41.84,234.55 L42.34,234.36 L42.83,234.62 L43.33,234.55 L43.82,234.36 L44.32,234.56 L44.81,234.50 L45.31,234.51 L45.80,234.56 L46.30,234.31 L46.80,234.18 L47.29,234.32 L47.79,234.06 L48.28,234.17 L48.78,233.91 L49.27,234.01 L49.77,234.04 L50.26,234.12 L50.76,234.05 L51.25,233.77 L51.75,233.32 L52.24,232.82 L52.74,232.36 L53.23,231.61 L53.73,230.38 L54.23,229.34 L54.72,227.87 L55.22,226.59 L55.71,225.52 L56.21,225.37 L56.70,226.02 L57.20,227.41 L57.69,228.88 L58.19,230.31 L58.68,231.45 L59.18,232.51 L59.67,233.25 L60.17,233.42 L60.67,233.66 L61.16,233.72 L61.66,233.99 L62.15,234.30 L62.65,234.15 L63.14,234.33 L63.64,234.24 L64.13,234.07 L64.63,234.32 L65.12,234.28 L65.62,234.19 L66.11,234.26 L66.61,234.21 L67.10,234.27 L67.60,234.31 L68.10,234.32 L68.59,234.40 L69.09,234.31 L69.58,234.17 L70.08,234.07 L70.57,234.02 L71.07,234.16 L71.56,234.15 L72.06,234.33 L72.55,234.27 L73.05,234.29 L73.54,234.40 L74.04,234.01 L74.53,233.73 L75.03,233.56 L75.53,233.48 L76.02,233.38 L76.52,233.19 L77.01,232.58 L77.51,232.04 L78.00,230.63 L78.50,229.33 L78.99,227.28 L79.49,225.32 L79.98,222.93 L80.48,221.60 L80.97,221.16 L81.47,222.13 L81.97,223.81 L82.46,225.72 L82.96,228.00 L83.45,229.62 L83.95,230.74 L84.44,231.81 L84.94,232.47 L85.43,232.88 L85.93,233.00 L86.42,233.08 L86.92,233.35 L87.41,233.46 L87.91,233.39 L88.40,233.50 L88.90,233.70 L89.40,233.81 L89.89,233.78 L90.39,233.73 L90.88,233.69 L91.38,233.62 L91.87,233.57 L92.37,233.66 L92.86,233.56 L93.36,233.78 L93.85,233.90 L94.35,233.93 L94.84,233.69 L95.34,233.71 L95.83,233.76 L96.33,233.63 L96.83,233.96 L97.32,234.04 L97.82,233.98 L98.31,234.04 L98.81,233.85 L99.30,233.77 L99.80,233.85 L100.29,234.00 L100.79,234.04 L101.28,233.78 L101.78,233.91 L102.27,234.11 L102.77,234.16 L103.27,234.26 L103.76,234.35 L104.26,234.06 L104.75,233.94 L105.25,233.99 L105.74,234.21 L106.24,234.06 L106.73,234.24 L107.23,234.30 L107.72,234.19 L108.22,234.18 L108.71,234.32 L109.21,234.33 L109.70,234.12 L110.20,234.25 L110.70,234.04 L111.19,234.01 L111.69,234.25 L112.18,234.34 L112.68,234.15 L113.17,234.05 L113.67,234.13 L114.16,234.29 L114.66,234.30 L115.15,234.43 L115.65,234.41 L116.14,234.44 L116.64,234.37 L117.13,234.23 L117.63,234.18 L118.13,234.19 L118.62,234.21 L119.12,234.36 L119.61,234.20 L120.11,234.03 L120.60,234.23 L121.10,234.14 L121.59,234.16 L122.09,234.04 L122.58,234.29 L123.08,234.19 L123.57,234.14 L124.07,234.35 L124.57,234.33 L125.06,234.23 L125.56,234.44 L126.05,234.35 L126.55,234.28 L127.04,234.51 L127.54,234.57 L128.03,234.58 L128.53,234.37 L129.02,234.51 L129.52,234.49 L130.01,234.58 L130.51,234.44 L131.00,234.54 L131.50,234.60 L132.00,234.46 L132.49,234.50 L132.99,234.58 L133.48,234.72 L133.98,234.77 L134.47,234.74 L134.97,234.44 L135.46,234.48 L135.96,234.54 L136.45,234.31 L136.95,234.35 L137.44,234.55 L137.94,234.67 L138.43,234.75 L138.93,234.43 L139.43,234.48 L139.92,234.62 L140.42,234.60 L140.91,234.45 L141.41,234.23 L141.90,234.50 L142.40,234.63 L142.89,234.60 L143.39,234.46 L143.88,234.58 L144.38,234.64 L144.87,234.63 L145.37,234.56 L145.87,234.40 L146.36,234.30 L146.86,234.27 L147.35,234.23 L147.85,234.29 L148.34,234.14 L148.84,234.32 L149.33,234.25 L149.83,234.11 L150.32,234.07 L150.82,234.08 L151.31,234.09 L151.81,234.21 L152.30,233.93 L152.80,233.75 L153.30,233.55 L153.79,233.20 L154.29,232.97 L154.78,232.15 L155.28,231.16 L155.77,230.25 L156.27,229.25 L156.76,228.31 L157.26,227.60 L157.75,227.50 L158.25,228.37 L158.74,229.51 L159.24,230.61 L159.73,231.69 L160.23,232.74 L160.73,233.53 L161.22,234.04 L161.72,234.04 L162.21,234.15 L162.71,234.28 L163.20,234.27 L163.70,234.55 L164.19,234.41 L164.69,234.71 L165.18,234.76 L165.68,234.82 L166.17,234.77 L166.67,234.99 L167.17,234.96 L167.66,235.10 L168.16,235.19 L168.65,235.15 L169.15,235.26 L169.64,235.12 L170.14,234.99 L170.63,235.13 L171.13,235.08 L171.62,234.96 L172.12,235.06 L172.61,235.03 L173.11,234.86 L173.60,235.08 L174.10,235.06 L174.60,235.26 L175.09,235.18 L175.59,235.31 L176.08,235.10 L176.58,234.95 L177.07,235.01 L177.57,235.14 L178.06,235.24 L178.56,235.21 L179.05,234.95 L179.55,234.92 L180.04,234.73 L180.54,234.76 L181.03,235.02 L181.53,234.88 L182.03,234.94 L182.52,234.92 L183.02,234.68 L183.51,234.77 L184.01,234.53 L184.50,234.42 L185.00,234.51 L185.49,234.34 L185.99,234.60 L186.48,234.48 L186.98,234.48 L187.47,234.61 L187.97,234.28 L188.47,234.47 L188.96,234.14 L189.46,234.18 L189.95,234.22 L190.45,234.36 L190.94,234.15 L191.44,234.29 L191.93,234.22 L192.43,234.09 L192.92,233.88 L193.42,233.78 L193.91,233.78 L194.41,233.77 L194.90,233.77 L195.40,233.96 L195.90,233.86 L196.39,233.92 L196.89,233.67 L197.38,233.57 L197.88,233.74 L198.37,233.88 L198.87,233.65 L199.36,233.33 L199.86,233.13 L200.35,232.92 L200.85,232.62 L201.34,232.31 L201.84,231.79 L202.33,231.45 L202.83,231.25 L203.33,231.24 L203.82,231.44 L204.32,231.76 L204.81,232.02 L205.31,232.59 L205.80,232.78 L206.30,233.20 L206.79,233.29 L207.29,233.44 L207.78,233.47 L208.28,233.55 L208.77,233.46 L209.27,233.51 L209.77,233.61 L210.26,233.50 L210.76,233.54 L211.25,233.50 L211.75,233.48 L212.24,233.43 L212.74,233.47 L213.23,233.56 L213.73,233.38 L214.22,233.26 L214.72,233.49 L215.21,233.30 L215.71,233.50 L216.20,233.60 L216.70,233.41 L217.20,233.50 L217.69,233.38 L218.19,233.59 L218.68,233.40 L219.18,233.27 L219.67,233.16 L220.17,233.40 L220.66,233.31 L221.16,233.31 L221.65,233.60 L222.15,233.66 L222.64,233.69 L223.14,233.64 L223.63,233.64 L224.13,233.37 L224.63,233.57 L225.12,233.47 L225.62,233.65 L226.11,233.56 L226.61,233.73 L227.10,233.42 L227.60,233.69 L228.09,233.45 L228.59,233.50 L229.08,233.51 L229.58,233.75 L230.07,233.76 L230.57,233.88 L231.07,233.92 L231.56,233.73 L232.06,233.51 L232.55,233.38 L233.05,233.56 L233.54,233.77 L234.04,233.76 L234.53,233.61 L235.03,233.64 L235.52,233.69 L236.02,233.54 L236.51,233.65 L237.01,233.49 L237.50,233.33 L238.00,233.25" stroke="#151515"/>
</g>
<rect x="74.90" y="54.00" width="7.2" height="7.2" fill="#151515"/>
<rect x="152.20" y="54.60" width="7.2" height="7.2" fill="#151515"/>
<rect x="199.00" y="54.40" width="9.2" height="9.2" fill="#151515"/>
<rect x="213.20" y="57.50" width="9.2" height="9.2" fill="#151515"/>
<rect x="51.40" y="76.40" width="7.2" height="7.2" fill="#151515"/>
<rect x="76.40" y="80.40" width="7.2" height="7.2" fill="#151515"/>
<rect x="152.80" y="85.20" width="7.2" height="7.2" fill="#151515"/>
<rect x="199.00" y="87.70" width="9.2" height="9.2" fill="#151515"/>
<rect x="213.40" y="90.60" width="9.2" height="9.2" fill="#151515"/>
<rect x="51.40" y="116.00" width="7.2" height="7.2" fill="#151515"/>
<rect x="71.40" y="113.80" width="7.2" height="7.2" fill="#151515"/>
<rect x="152.40" y="117.30" width="7.2" height="7.2" fill="#151515"/>
<rect x="199.00" y="119.40" width="9.2" height="9.2" fill="#151515"/>
<rect x="213.40" y="122.30" width="9.2" height="9.2" fill="#151515"/>
<rect x="51.40" y="147.70" width="7.2" height="7.2" fill="#151515"/>
<rect x="74.10" y="146.30" width="7.2" height="7.2" fill="#151515"/>
<rect x="152.40" y="150.10" width="7.2" height="7.2" fill="#151515"/>
<rect x="199.00" y="152.00" width="9.2" height="9.2" fill="#151515"/>
<rect x="213.40" y="154.80" width="9.2" height="9.2" fill="#151515"/>
<rect x="51.40" y="180.10" width="7.2" height="7.2" fill="#151515"/>
<rect x="76.20" y="173.90" width="7.2" height="7.2" fill="#151515"/>
<rect x="152.40" y="182.30" width="7.2" height="7.2" fill="#151515"/>
<rect x="199.00" y="185.80" width="9.2" height="9.2" fill="#151515"/>
<rect x="213.40" y="188.90" width="9.2" height="9.2" fill="#151515"/>
<rect x="51.40" y="212.80" width="7.2" height="7.2" fill="#151515"/>
<rect x="76.20" y="206.70" width="7.2" height="7.2" fill="#151515"/>
<rect x="152.40" y="214.60" width="7.2" height="7.2" fill="#151515"/>
<rect x="199.20" y="216.00" width="9.2" height="9.2" fill="#151515"/>
<rect x="213.20" y="219.10" width="9.2" height="9.2" fill="#151515"/>
<circle cx="53.40" cy="49.00" r="4" fill="#f71d31"/>
<circle cx="64.20" cy="55.80" r="4" fill="#f71d31"/>
<circle cx="90.70" cy="43.10" r="4" fill="#f71d31"/>
<circle cx="171.40" cy="36.30" r="4" fill="#f71d31"/>
<circle cx="66.30" cy="92.70" r="4" fill="#f71d31"/>
<circle cx="91.00" cy="80.40" r="4" fill="#f71d31"/>
<circle cx="171.30" cy="75.00" r="4" fill="#f71d31"/>
<circle cx="86.80" cy="121.50" r="4" fill="#f71d31"/>
<circle cx="86.80" cy="152.20" r="4" fill="#f71d31"/>
<rect x="24.2" y="28.8" width="214.60" height="224.70" fill="none" stroke="#151515" stroke-width="1.6"/>
<path d="M30.60,253.5 V257.5 M97.70,253.5 V257.5 M164.80,253.5 V257.5 M231.90,253.5 V257.5 M64.15,253.5 V256.0 M131.25,253.5 V256.0 M198.35,253.5 V256.0" stroke="#151515" stroke-width="1.3"/>
<text x="30.60" y="268.8" class="tk" font-size="10.2" text-anchor="middle">10</text>
<text x="97.70" y="268.8" class="tk" font-size="10.2" text-anchor="middle">15</text>
<text x="164.80" y="268.8" class="tk" font-size="10.2" text-anchor="middle">20</text>
<text x="231.90" y="268.8" class="tk" font-size="10.2" text-anchor="middle">25</text>
<g fill="none" stroke-width="1.9" stroke-linejoin="round" stroke-linecap="round">
<path d="M285.50,163.60 C287.92,163.53 296.05,163.47 300.00,163.20 C303.95,162.93 306.70,162.48 309.20,162.00 C311.70,161.52 313.33,160.58 315.00,160.30 C316.67,160.02 317.87,160.68 319.20,160.30 C320.53,159.92 321.87,158.85 323.00,158.00 C324.13,157.15 325.08,156.50 326.00,155.20 C326.92,153.90 327.53,153.27 328.50,150.20 C329.47,147.13 330.47,142.17 331.80,136.80 C333.13,131.43 335.27,124.13 336.50,118.00 C337.73,111.87 338.32,105.50 339.20,100.00 C340.08,94.50 340.82,91.63 341.80,85.00 C342.78,78.37 344.13,66.37 345.10,60.20 C346.07,54.03 346.98,50.87 347.60,48.00 C348.22,45.13 348.45,44.23 348.80,43.00 C349.15,41.77 349.40,40.60 349.70,40.60 C350.00,40.60 350.22,41.85 350.60,43.00 C350.98,44.15 351.52,45.83 352.00,47.50 C352.48,49.17 352.65,47.58 353.50,53.00 C354.35,58.42 355.72,73.72 357.10,80.00 C358.48,86.28 360.23,86.67 361.80,90.70 C363.37,94.73 365.03,100.83 366.50,104.20 C367.97,107.57 369.18,110.02 370.60,110.90 C372.02,111.78 374.08,109.95 375.00,109.50 C375.92,109.05 374.80,109.45 376.10,108.20 C377.40,106.95 380.57,102.45 382.80,102.00 C385.03,101.55 386.63,104.18 389.50,105.50 C392.37,106.82 397.13,109.02 400.00,109.90 C402.87,110.78 403.90,111.72 406.70,110.80 C409.50,109.88 413.45,106.17 416.80,104.40 C420.15,102.63 423.45,102.43 426.80,100.20 C430.15,97.97 432.98,93.30 436.90,91.00 C440.82,88.70 446.67,86.68 450.30,86.40 C453.93,86.12 455.33,87.57 458.70,89.30 C462.07,91.03 466.87,94.85 470.50,96.80 C474.13,98.75 477.38,99.90 480.50,101.00 C483.62,102.10 487.75,103.00 489.20,103.40" stroke="#2347f5"/>
<path d="M285.50,208.10 C287.48,208.05 293.97,207.92 297.40,207.80 C300.83,207.68 304.25,207.60 306.10,207.40 C307.95,207.20 307.72,206.90 308.50,206.60 C309.28,206.30 309.73,205.63 310.80,205.60 C311.87,205.57 313.55,206.40 314.90,206.40 C316.25,206.40 317.57,206.38 318.90,205.60 C320.23,204.82 321.78,203.25 322.90,201.70 C324.02,200.15 324.87,198.42 325.60,196.30 C326.33,194.18 326.75,191.72 327.30,189.00 C327.85,186.28 328.10,184.48 328.90,180.00 C329.70,175.52 331.25,167.10 332.10,162.10 C332.95,157.10 333.33,153.65 334.00,150.00 C334.67,146.35 335.42,143.52 336.10,140.20 C336.78,136.88 337.32,133.45 338.10,130.10 C338.88,126.75 339.68,123.45 340.80,120.10 C341.92,116.75 343.75,113.33 344.80,110.00 C345.85,106.67 346.42,103.10 347.10,100.10 C347.78,97.10 348.38,93.97 348.90,92.00 C349.42,90.03 349.77,88.30 350.20,88.30 C350.63,88.30 351.02,90.03 351.50,92.00 C351.98,93.97 352.73,97.10 353.10,100.10 C353.47,103.10 353.03,106.12 353.70,110.00 C354.37,113.88 355.87,119.82 357.10,123.40 C358.33,126.98 359.77,128.82 361.10,131.50 C362.43,134.18 363.75,136.60 365.10,139.50 C366.45,142.40 368.03,146.97 369.20,148.90 C370.37,150.83 371.05,150.83 372.10,151.10 C373.15,151.37 374.20,151.53 375.50,150.50 C376.80,149.47 378.32,146.05 379.90,144.90 C381.48,143.75 383.40,143.23 385.00,143.60 C386.60,143.97 387.00,145.37 389.50,147.10 C392.00,148.83 396.85,153.47 400.00,154.00 C403.15,154.53 405.60,152.03 408.40,150.30 C411.20,148.57 414.00,145.70 416.80,143.60 C419.60,141.50 422.40,139.38 425.20,137.70 C428.00,136.02 431.08,134.33 433.60,133.50 C436.12,132.67 437.78,132.57 440.30,132.70 C442.82,132.83 445.92,133.62 448.70,134.30 C451.48,134.98 453.93,136.43 457.00,136.80 C460.07,137.17 463.45,136.50 467.10,136.50 C470.75,136.50 475.22,136.35 478.90,136.80 C482.58,137.25 487.48,138.80 489.20,139.20" stroke="#1ec01e"/>
<path d="M285.50,249.80 C287.92,249.75 295.92,249.63 300.00,249.50 C304.08,249.37 307.17,249.32 310.00,249.00 C312.83,248.68 314.65,248.83 317.00,247.60 C319.35,246.37 322.13,244.00 324.10,241.60 C326.07,239.20 327.43,236.42 328.80,233.20 C330.17,229.98 331.13,225.95 332.30,222.30 C333.47,218.65 334.80,215.68 335.80,211.30 C336.80,206.92 337.48,200.72 338.30,196.00 C339.12,191.28 339.98,187.33 340.70,183.00 C341.42,178.67 341.78,175.83 342.60,170.00 C343.42,164.17 344.78,154.00 345.60,148.00 C346.42,142.00 346.87,137.62 347.50,134.00 C348.13,130.38 348.77,126.97 349.40,126.30 C350.03,125.63 350.62,127.97 351.30,130.00 C351.98,132.03 352.45,131.83 353.50,138.50 C354.55,145.17 356.08,162.92 357.60,170.00 C359.12,177.08 360.77,177.25 362.60,181.00 C364.43,184.75 366.85,189.95 368.60,192.50 C370.35,195.05 371.33,196.30 373.10,196.30 C374.87,196.30 376.93,193.27 379.20,192.50 C381.47,191.73 383.18,191.20 386.70,191.70 C390.22,192.20 396.75,194.90 400.30,195.50 C403.85,196.10 405.55,196.18 408.00,195.30 C410.45,194.42 413.00,191.13 415.00,190.20 C417.00,189.27 416.65,191.55 420.00,189.70 C423.35,187.85 431.33,181.55 435.10,179.10 C438.87,176.65 440.08,176.02 442.60,175.00 C445.12,173.98 447.68,173.00 450.20,173.00 C452.72,173.00 455.20,173.98 457.70,175.00 C460.20,176.02 462.18,177.53 465.20,179.10 C468.22,180.67 471.80,182.77 475.80,184.40 C479.80,186.03 486.97,188.15 489.20,188.90" stroke="#1a1a1a" stroke-width="1.8"/>
<path d="M285.50,249.63 L285.84,249.63 L286.18,249.62 L286.52,249.61 L286.86,249.60 L287.20,249.60 L287.54,249.59 L287.88,249.58 L288.22,249.58 L288.56,249.57 L288.90,249.56 L289.24,249.56 L289.58,249.55 L289.92,249.54 L290.26,249.53 L290.60,249.53 L290.94,249.52 L291.28,249.51 L291.62,249.51 L291.96,249.50 L292.30,249.49 L292.64,249.48 L292.98,249.48 L293.32,249.47 L293.66,249.46 L294.00,249.45 L294.34,249.45 L294.68,249.44 L295.02,249.43 L295.36,249.42 L295.70,249.41 L296.04,249.41 L296.38,249.40 L296.72,249.39 L297.06,249.38 L297.40,249.37 L297.74,249.36 L298.08,249.36 L298.42,249.35 L298.76,249.34 L299.10,249.33 L299.44,249.32 L299.78,249.31 L300.12,249.30 L300.46,249.29 L300.80,249.28 L301.14,249.27 L301.48,249.26 L301.82,249.25 L302.16,249.24 L302.50,249.23 L302.84,249.22 L303.18,249.21 L303.52,249.21 L303.86,249.20 L304.20,249.19 L304.54,249.18 L304.88,249.17 L305.22,249.16 L305.56,249.15 L305.90,249.14 L306.24,249.12 L306.58,249.11 L306.92,249.09 L307.26,249.07 L307.60,249.05 L307.94,249.03 L308.28,249.01 L308.62,248.98 L308.96,248.95 L309.30,248.92 L309.64,248.89 L309.98,248.85 L310.32,248.81 L310.66,248.78 L311.01,248.74 L311.35,248.71 L311.69,248.67 L312.03,248.64 L312.37,248.60 L312.71,248.56 L313.05,248.52 L313.39,248.47 L313.73,248.41 L314.07,248.35 L314.41,248.28 L314.75,248.19 L315.09,248.09 L315.43,247.99 L315.77,247.86 L316.11,247.72 L316.45,247.58 L316.79,247.41 L317.13,247.23 L317.47,247.04 L317.81,246.83 L318.15,246.62 L318.49,246.40 L318.83,246.17 L319.17,245.93 L319.51,245.68 L319.85,245.42 L320.19,245.16 L320.53,244.88 L320.87,244.60 L321.21,244.30 L321.55,244.00 L321.89,243.69 L322.23,243.36 L322.57,243.03 L322.91,242.68 L323.25,242.32 L323.59,241.95 L323.93,241.55 L324.27,241.14 L324.61,240.71 L324.95,240.25 L325.29,239.76 L325.63,239.24 L325.97,238.69 L326.31,238.12 L326.65,237.50 L326.99,236.85 L327.33,236.17 L327.67,235.46 L328.01,234.72 L328.35,233.96 L328.69,233.17 L329.03,232.35 L329.37,231.47 L329.71,230.54 L330.05,229.55 L330.39,228.50 L330.73,227.41 L331.07,226.29 L331.41,225.16 L331.75,224.04 L332.09,222.94 L332.43,221.87 L332.77,220.85 L333.11,219.84 L333.45,218.85 L333.79,217.83 L334.13,216.78 L334.47,215.66 L334.81,214.47 L335.15,213.20 L335.49,211.85 L335.83,210.37 L336.17,208.68 L336.51,206.80 L336.85,204.72 L337.19,202.51 L337.53,200.25 L337.87,198.03 L338.21,195.94 L338.55,194.03 L338.89,192.20 L339.23,190.43 L339.57,188.67 L339.91,186.90 L340.25,185.07 L340.59,183.14 L340.93,181.06 L341.27,178.87 L341.61,176.60 L341.95,174.28 L342.29,171.96 L342.63,169.65 L342.97,167.34 L343.31,165.02 L343.65,162.69 L343.99,160.35 L344.33,158.02 L344.67,155.69 L345.01,153.36 L345.35,151.04 L345.69,148.73 L346.03,146.36 L346.37,143.93 L346.71,141.52 L347.05,139.23 L347.39,137.21 L347.73,135.42 L348.07,133.74 L348.41,132.22 L348.75,130.93 L349.09,129.94 L349.43,129.35 L349.77,129.18 L350.11,129.41 L350.45,129.92 L350.79,130.62 L351.13,131.39 L351.47,132.12 L351.81,132.74 L352.15,133.42 L352.49,134.35 L352.83,135.60 L353.17,137.20 L353.51,139.06 L353.85,141.29 L354.19,143.77 L354.53,146.39 L354.87,149.05 L355.21,151.73 L355.55,154.38 L355.89,156.94 L356.23,159.40 L356.57,161.72 L356.91,163.86 L357.25,165.79 L357.59,167.49 L357.93,168.95 L358.27,170.23 L358.61,171.36 L358.95,172.35 L359.29,173.23 L359.63,174.01 L359.97,174.71 L360.31,175.34 L360.65,175.95 L360.99,176.53 L361.33,177.12 L361.67,177.72 L362.02,178.35 L362.36,179.02 L362.70,179.73 L363.04,180.46 L363.38,181.19 L363.72,181.92 L364.06,182.65 L364.40,183.37 L364.74,184.09 L365.08,184.80 L365.42,185.50 L365.76,186.20 L366.10,186.88 L366.44,187.54 L366.78,188.20 L367.12,188.84 L367.46,189.46 L367.80,190.05 L368.14,190.63 L368.48,191.16 L368.82,191.67 L369.16,192.16 L369.50,192.63 L369.84,193.08 L370.18,193.50 L370.52,193.88 L370.86,194.21 L371.20,194.50 L371.54,194.73 L371.88,194.90 L372.22,195.03 L372.56,195.12 L372.90,195.16 L373.24,195.17 L373.58,195.14 L373.92,195.04 L374.26,194.91 L374.60,194.74 L374.94,194.55 L375.28,194.33 L375.62,194.09 L375.96,193.85 L376.30,193.59 L376.64,193.34 L376.98,193.08 L377.32,192.85 L377.66,192.61 L378.00,192.40 L378.34,192.21 L378.68,192.04 L379.02,191.90 L379.36,191.78 L379.70,191.67 L380.04,191.56 L380.38,191.46 L380.72,191.37 L381.06,191.28 L381.40,191.20 L381.74,191.12 L382.08,191.06 L382.42,191.00 L382.76,190.95 L383.10,190.91 L383.44,190.89 L383.78,190.86 L384.12,190.85 L384.46,190.85 L384.80,190.86 L385.14,190.87 L385.48,190.89 L385.82,190.92 L386.16,190.95 L386.50,190.99 L386.84,191.04 L387.18,191.10 L387.52,191.16 L387.86,191.24 L388.20,191.32 L388.54,191.40 L388.88,191.49 L389.22,191.59 L389.56,191.69 L389.90,191.79 L390.24,191.89 L390.58,192.00 L390.92,192.11 L391.26,192.22 L391.60,192.33 L391.94,192.44 L392.28,192.55 L392.62,192.67 L392.96,192.78 L393.30,192.89 L393.64,193.00 L393.98,193.12 L394.32,193.23 L394.66,193.34 L395.00,193.45 L395.34,193.56 L395.68,193.67 L396.02,193.78 L396.36,193.89 L396.70,194.00 L397.04,194.11 L397.38,194.22 L397.72,194.32 L398.06,194.42 L398.40,194.52 L398.74,194.61 L399.08,194.70 L399.42,194.79 L399.76,194.86 L400.10,194.93 L400.44,194.99 L400.78,195.05 L401.12,195.10 L401.46,195.14 L401.80,195.18 L402.14,195.21 L402.48,195.24 L402.82,195.26 L403.16,195.28 L403.50,195.28 L403.84,195.28 L404.18,195.27 L404.52,195.25 L404.86,195.22 L405.20,195.18 L405.54,195.13 L405.88,195.07 L406.22,195.01 L406.56,194.92 L406.90,194.84 L407.24,194.73 L407.58,194.62 L407.92,194.51 L408.26,194.37 L408.60,194.22 L408.94,194.03 L409.28,193.84 L409.62,193.63 L409.96,193.40 L410.30,193.16 L410.64,192.91 L410.98,192.65 L411.32,192.38 L411.66,192.11 L412.00,191.84 L412.34,191.56 L412.68,191.29 L413.03,191.02 L413.37,190.76 L413.71,190.51 L414.05,190.27 L414.39,190.05 L414.73,189.85 L415.07,189.67 L415.41,189.53 L415.75,189.44 L416.09,189.41 L416.43,189.44 L416.77,189.51 L417.11,189.57 L417.45,189.59 L417.79,189.56 L418.13,189.50 L418.47,189.40 L418.81,189.27 L419.15,189.13 L419.49,188.96 L419.83,188.79 L420.17,188.60 L420.51,188.41 L420.85,188.21 L421.19,188.00 L421.53,187.79 L421.87,187.58 L422.21,187.36 L422.55,187.14 L422.89,186.92 L423.23,186.71 L423.57,186.48 L423.91,186.26 L424.25,186.03 L424.59,185.81 L424.93,185.58 L425.27,185.35 L425.61,185.13 L425.95,184.90 L426.29,184.67 L426.63,184.44 L426.97,184.22 L427.31,183.99 L427.65,183.76 L427.99,183.53 L428.33,183.30 L428.67,183.08 L429.01,182.85 L429.35,182.62 L429.69,182.40 L430.03,182.17 L430.37,181.94 L430.71,181.72 L431.05,181.49 L431.39,181.27 L431.73,181.04 L432.07,180.82 L432.41,180.60 L432.75,180.38 L433.09,180.16 L433.43,179.94 L433.77,179.73 L434.11,179.51 L434.45,179.30 L434.79,179.10 L435.13,178.89 L435.47,178.69 L435.81,178.49 L436.15,178.29 L436.49,178.10 L436.83,177.90 L437.17,177.71 L437.51,177.51 L437.85,177.33 L438.19,177.14 L438.53,176.96 L438.87,176.78 L439.21,176.61 L439.55,176.44 L439.89,176.28 L440.23,176.13 L440.57,175.98 L440.91,175.83 L441.25,175.70 L441.59,175.56 L441.93,175.43 L442.27,175.30 L442.61,175.18 L442.95,175.06 L443.29,174.94 L443.63,174.82 L443.97,174.71 L444.31,174.60 L444.65,174.49 L444.99,174.39 L445.33,174.29 L445.67,174.20 L446.01,174.12 L446.35,174.04 L446.69,173.97 L447.03,173.90 L447.37,173.85 L447.71,173.79 L448.05,173.75 L448.39,173.71 L448.73,173.69 L449.07,173.66 L449.41,173.65 L449.75,173.65 L450.09,173.65 L450.43,173.66 L450.77,173.69 L451.11,173.72 L451.45,173.76 L451.79,173.82 L452.13,173.87 L452.47,173.94 L452.81,174.02 L453.15,174.10 L453.49,174.19 L453.83,174.28 L454.17,174.38 L454.51,174.49 L454.85,174.60 L455.19,174.71 L455.53,174.83 L455.87,174.95 L456.21,175.08 L456.55,175.20 L456.89,175.33 L457.23,175.46 L457.57,175.59 L457.91,175.73 L458.25,175.86 L458.59,176.01 L458.93,176.16 L459.27,176.32 L459.61,176.48 L459.95,176.65 L460.29,176.82 L460.63,177.00 L460.97,177.17 L461.31,177.35 L461.65,177.53 L461.99,177.71 L462.33,177.89 L462.67,178.07 L463.01,178.24 L463.35,178.42 L463.69,178.59 L464.04,178.75 L464.38,178.91 L464.72,179.07 L465.06,179.23 L465.40,179.38 L465.74,179.53 L466.08,179.69 L466.42,179.84 L466.76,179.99 L467.10,180.15 L467.44,180.30 L467.78,180.46 L468.12,180.61 L468.46,180.76 L468.80,180.92 L469.14,181.07 L469.48,181.22 L469.82,181.38 L470.16,181.53 L470.50,181.68 L470.84,181.83 L471.18,181.98 L471.52,182.13 L471.86,182.28 L472.20,182.43 L472.54,182.58 L472.88,182.72 L473.22,182.86 L473.56,183.00 L473.90,183.15 L474.24,183.28 L474.58,183.42 L474.92,183.55 L475.26,183.68 L475.60,183.81 L475.94,183.94 L476.28,184.06 L476.62,184.18 L476.96,184.30 L477.30,184.42 L477.64,184.53 L477.98,184.65 L478.32,184.76 L478.66,184.87 L479.00,184.98 L479.34,185.09 L479.68,185.19 L480.02,185.30 L480.36,185.40 L480.70,185.50 L481.04,185.60 L481.38,185.70 L481.72,185.80 L482.06,185.90 L482.40,186.00 L482.74,186.10 L483.08,186.19 L483.42,186.29 L483.76,186.39 L484.10,186.48 L484.44,186.58 L484.78,186.67 L485.12,186.77 L485.46,186.86 L485.80,186.95 L486.14,187.05 L486.48,187.14 L486.82,187.23 L487.16,187.33 L487.50,187.42 L487.84,187.52 L488.18,187.61 L488.52,187.71 L488.86,187.80 L489.20,187.90" stroke="#5a5a5a" stroke-width="1.6"/>
<path d="M285.50,249.47 L285.84,249.46 L286.18,249.45 L286.52,249.44 L286.86,249.43 L287.20,249.43 L287.54,249.42 L287.88,249.41 L288.22,249.40 L288.56,249.39 L288.90,249.39 L289.24,249.38 L289.58,249.37 L289.92,249.36 L290.26,249.35 L290.60,249.34 L290.94,249.34 L291.28,249.33 L291.62,249.32 L291.96,249.31 L292.30,249.30 L292.64,249.30 L292.98,249.29 L293.32,249.28 L293.66,249.27 L294.00,249.26 L294.34,249.25 L294.68,249.25 L295.02,249.24 L295.36,249.23 L295.70,249.22 L296.04,249.21 L296.38,249.20 L296.72,249.19 L297.06,249.18 L297.40,249.17 L297.74,249.17 L298.08,249.16 L298.42,249.15 L298.76,249.14 L299.10,249.13 L299.44,249.12 L299.78,249.11 L300.12,249.10 L300.46,249.09 L300.80,249.08 L301.14,249.07 L301.48,249.06 L301.82,249.05 L302.16,249.05 L302.50,249.04 L302.84,249.03 L303.18,249.03 L303.52,249.02 L303.86,249.02 L304.20,249.01 L304.54,249.00 L304.88,249.00 L305.22,248.99 L305.56,248.98 L305.90,248.97 L306.24,248.96 L306.58,248.95 L306.92,248.94 L307.26,248.92 L307.60,248.90 L307.94,248.88 L308.28,248.86 L308.62,248.84 L308.96,248.81 L309.30,248.78 L309.64,248.74 L309.98,248.70 L310.32,248.66 L310.66,248.62 L311.01,248.58 L311.35,248.54 L311.69,248.50 L312.03,248.46 L312.37,248.42 L312.71,248.37 L313.05,248.32 L313.39,248.26 L313.73,248.19 L314.07,248.12 L314.41,248.03 L314.75,247.94 L315.09,247.83 L315.43,247.72 L315.77,247.59 L316.11,247.44 L316.45,247.28 L316.79,247.11 L317.13,246.93 L317.47,246.73 L317.81,246.53 L318.15,246.32 L318.49,246.09 L318.83,245.87 L319.17,245.63 L319.51,245.38 L319.85,245.12 L320.19,244.86 L320.53,244.59 L320.87,244.31 L321.21,244.02 L321.55,243.72 L321.89,243.41 L322.23,243.09 L322.57,242.76 L322.91,242.42 L323.25,242.06 L323.59,241.69 L323.93,241.30 L324.27,240.89 L324.61,240.47 L324.95,240.00 L325.29,239.51 L325.63,239.00 L325.97,238.45 L326.31,237.87 L326.65,237.25 L326.99,236.60 L327.33,235.91 L327.67,235.19 L328.01,234.44 L328.35,233.67 L328.69,232.88 L329.03,232.06 L329.37,231.19 L329.71,230.28 L330.05,229.32 L330.39,228.30 L330.73,227.25 L331.07,226.17 L331.41,225.08 L331.75,223.98 L332.09,222.90 L332.43,221.84 L332.77,220.81 L333.11,219.78 L333.45,218.74 L333.79,217.67 L334.13,216.54 L334.47,215.31 L334.81,213.99 L335.15,212.58 L335.49,211.13 L335.83,209.58 L336.17,207.84 L336.51,205.95 L336.85,203.89 L337.19,201.74 L337.53,199.54 L337.87,197.38 L338.21,195.35 L338.55,193.46 L338.89,191.66 L339.23,189.90 L339.57,188.16 L339.91,186.39 L340.25,184.57 L340.59,182.64 L340.93,180.54 L341.27,178.35 L341.61,176.12 L341.95,173.89 L342.29,171.70 L342.63,169.53 L342.97,167.36 L343.31,165.19 L343.65,163.02 L343.99,160.85 L344.33,158.68 L344.67,156.53 L345.01,154.38 L345.35,152.25 L345.69,150.14 L346.03,147.99 L346.37,145.81 L346.71,143.65 L347.05,141.61 L347.39,139.78 L347.73,138.15 L348.07,136.61 L348.41,135.22 L348.75,134.01 L349.09,133.05 L349.43,132.41 L349.77,132.12 L350.11,132.14 L350.45,132.39 L350.79,132.81 L351.13,133.29 L351.47,133.75 L351.81,134.16 L352.15,134.65 L352.49,135.39 L352.83,136.44 L353.17,137.85 L353.51,139.54 L353.85,141.55 L354.19,143.79 L354.53,146.11 L354.87,148.45 L355.21,150.79 L355.55,153.12 L355.89,155.39 L356.23,157.58 L356.57,159.66 L356.91,161.61 L357.25,163.40 L357.59,165.02 L357.93,166.46 L358.27,167.78 L358.61,168.98 L358.95,170.06 L359.29,171.03 L359.63,171.90 L359.97,172.68 L360.31,173.40 L360.65,174.09 L360.99,174.76 L361.33,175.42 L361.67,176.09 L362.02,176.79 L362.36,177.51 L362.70,178.26 L363.04,179.02 L363.38,179.79 L363.72,180.54 L364.06,181.30 L364.40,182.05 L364.74,182.79 L365.08,183.52 L365.42,184.24 L365.76,184.95 L366.10,185.64 L366.44,186.33 L366.78,187.00 L367.12,187.65 L367.46,188.28 L367.80,188.88 L368.14,189.47 L368.48,190.01 L368.82,190.53 L369.16,191.02 L369.50,191.50 L369.84,191.94 L370.18,192.36 L370.52,192.73 L370.86,193.06 L371.20,193.34 L371.54,193.57 L371.88,193.75 L372.22,193.89 L372.56,193.98 L372.90,194.04 L373.24,194.06 L373.58,194.05 L373.92,193.98 L374.26,193.88 L374.60,193.76 L374.94,193.60 L375.28,193.42 L375.62,193.22 L375.96,193.00 L376.30,192.78 L376.64,192.55 L376.98,192.32 L377.32,192.10 L377.66,191.89 L378.00,191.69 L378.34,191.52 L378.68,191.35 L379.02,191.22 L379.36,191.11 L379.70,191.00 L380.04,190.91 L380.38,190.81 L380.72,190.72 L381.06,190.64 L381.40,190.56 L381.74,190.49 L382.08,190.42 L382.42,190.36 L382.76,190.31 L383.10,190.27 L383.44,190.24 L383.78,190.21 L384.12,190.20 L384.46,190.19 L384.80,190.19 L385.14,190.20 L385.48,190.22 L385.82,190.24 L386.16,190.27 L386.50,190.31 L386.84,190.36 L387.18,190.42 L387.52,190.48 L387.86,190.56 L388.20,190.64 L388.54,190.73 L388.88,190.82 L389.22,190.92 L389.56,191.02 L389.90,191.13 L390.24,191.24 L390.58,191.35 L390.92,191.46 L391.26,191.58 L391.60,191.69 L391.94,191.81 L392.28,191.93 L392.62,192.05 L392.96,192.16 L393.30,192.28 L393.64,192.40 L393.98,192.51 L394.32,192.62 L394.66,192.74 L395.00,192.85 L395.34,192.96 L395.68,193.08 L396.02,193.20 L396.36,193.31 L396.70,193.43 L397.04,193.54 L397.38,193.65 L397.72,193.76 L398.06,193.87 L398.40,193.97 L398.74,194.07 L399.08,194.16 L399.42,194.25 L399.76,194.33 L400.10,194.40 L400.44,194.46 L400.78,194.51 L401.12,194.56 L401.46,194.60 L401.80,194.63 L402.14,194.65 L402.48,194.66 L402.82,194.67 L403.16,194.66 L403.50,194.65 L403.84,194.62 L404.18,194.59 L404.52,194.55 L404.86,194.50 L405.20,194.44 L405.54,194.37 L405.88,194.30 L406.22,194.22 L406.56,194.13 L406.90,194.03 L407.24,193.92 L407.58,193.81 L407.92,193.69 L408.26,193.55 L408.60,193.40 L408.94,193.23 L409.28,193.05 L409.62,192.84 L409.96,192.63 L410.30,192.41 L410.64,192.18 L410.98,191.94 L411.32,191.70 L411.66,191.45 L412.00,191.20 L412.34,190.95 L412.68,190.70 L413.03,190.45 L413.37,190.21 L413.71,189.98 L414.05,189.75 L414.39,189.54 L414.73,189.35 L415.07,189.17 L415.41,189.02 L415.75,188.91 L416.09,188.84 L416.43,188.81 L416.77,188.81 L417.11,188.81 L417.45,188.77 L417.79,188.69 L418.13,188.58 L418.47,188.45 L418.81,188.30 L419.15,188.14 L419.49,187.97 L419.83,187.79 L420.17,187.61 L420.51,187.41 L420.85,187.22 L421.19,187.02 L421.53,186.82 L421.87,186.62 L422.21,186.41 L422.55,186.21 L422.89,186.00 L423.23,185.79 L423.57,185.58 L423.91,185.37 L424.25,185.17 L424.59,184.96 L424.93,184.75 L425.27,184.54 L425.61,184.33 L425.95,184.12 L426.29,183.91 L426.63,183.70 L426.97,183.50 L427.31,183.29 L427.65,183.08 L427.99,182.88 L428.33,182.67 L428.67,182.46 L429.01,182.26 L429.35,182.06 L429.69,181.85 L430.03,181.65 L430.37,181.44 L430.71,181.24 L431.05,181.04 L431.39,180.84 L431.73,180.64 L432.07,180.44 L432.41,180.24 L432.75,180.04 L433.09,179.84 L433.43,179.65 L433.77,179.45 L434.11,179.26 L434.45,179.07 L434.79,178.89 L435.13,178.70 L435.47,178.52 L435.81,178.34 L436.15,178.16 L436.49,177.98 L436.83,177.81 L437.17,177.63 L437.51,177.46 L437.85,177.29 L438.19,177.13 L438.53,176.96 L438.87,176.81 L439.21,176.65 L439.55,176.50 L439.89,176.35 L440.23,176.21 L440.57,176.08 L440.91,175.95 L441.25,175.82 L441.59,175.70 L441.93,175.59 L442.27,175.47 L442.61,175.36 L442.95,175.26 L443.29,175.15 L443.63,175.05 L443.97,174.96 L444.31,174.86 L444.65,174.78 L444.99,174.70 L445.33,174.62 L445.67,174.55 L446.01,174.49 L446.35,174.44 L446.69,174.40 L447.03,174.36 L447.37,174.33 L447.71,174.30 L448.05,174.29 L448.39,174.27 L448.73,174.27 L449.07,174.26 L449.41,174.27 L449.75,174.28 L450.09,174.29 L450.43,174.32 L450.77,174.35 L451.11,174.40 L451.45,174.44 L451.79,174.50 L452.13,174.57 L452.47,174.64 L452.81,174.72 L453.15,174.80 L453.49,174.89 L453.83,174.98 L454.17,175.08 L454.51,175.19 L454.85,175.29 L455.19,175.40 L455.53,175.52 L455.87,175.63 L456.21,175.75 L456.55,175.87 L456.89,175.99 L457.23,176.11 L457.57,176.23 L457.91,176.36 L458.25,176.49 L458.59,176.62 L458.93,176.76 L459.27,176.91 L459.61,177.05 L459.95,177.20 L460.29,177.36 L460.63,177.51 L460.97,177.67 L461.31,177.83 L461.65,177.99 L461.99,178.14 L462.33,178.30 L462.67,178.45 L463.01,178.60 L463.35,178.75 L463.69,178.89 L464.04,179.03 L464.38,179.17 L464.72,179.30 L465.06,179.43 L465.40,179.56 L465.74,179.68 L466.08,179.81 L466.42,179.94 L466.76,180.06 L467.10,180.19 L467.44,180.31 L467.78,180.44 L468.12,180.56 L468.46,180.69 L468.80,180.82 L469.14,180.94 L469.48,181.07 L469.82,181.19 L470.16,181.32 L470.50,181.45 L470.84,181.58 L471.18,181.70 L471.52,181.83 L471.86,181.96 L472.20,182.09 L472.54,182.21 L472.88,182.34 L473.22,182.47 L473.56,182.59 L473.90,182.72 L474.24,182.84 L474.58,182.96 L474.92,183.08 L475.26,183.19 L475.60,183.31 L475.94,183.43 L476.28,183.54 L476.62,183.65 L476.96,183.75 L477.30,183.86 L477.64,183.96 L477.98,184.07 L478.32,184.17 L478.66,184.27 L479.00,184.36 L479.34,184.46 L479.68,184.56 L480.02,184.65 L480.36,184.74 L480.70,184.83 L481.04,184.92 L481.38,185.01 L481.72,185.10 L482.06,185.18 L482.40,185.27 L482.74,185.35 L483.08,185.44 L483.42,185.52 L483.76,185.60 L484.10,185.68 L484.44,185.77 L484.78,185.85 L485.12,185.93 L485.46,186.01 L485.80,186.09 L486.14,186.17 L486.48,186.25 L486.82,186.33 L487.16,186.41 L487.50,186.49 L487.84,186.57 L488.18,186.65 L488.52,186.73 L488.86,186.82 L489.20,186.90" stroke="#8f8f8f" stroke-width="1.6"/>
<path d="M285.50,249.30 L285.84,249.29 L286.18,249.28 L286.52,249.27 L286.86,249.26 L287.20,249.25 L287.54,249.24 L287.88,249.24 L288.22,249.23 L288.56,249.22 L288.90,249.21 L289.24,249.20 L289.58,249.19 L289.92,249.18 L290.26,249.17 L290.60,249.16 L290.94,249.15 L291.28,249.14 L291.62,249.14 L291.96,249.13 L292.30,249.12 L292.64,249.11 L292.98,249.10 L293.32,249.09 L293.66,249.08 L294.00,249.07 L294.34,249.06 L294.68,249.05 L295.02,249.04 L295.36,249.03 L295.70,249.02 L296.04,249.01 L296.38,249.00 L296.72,249.00 L297.06,248.99 L297.40,248.98 L297.74,248.97 L298.08,248.96 L298.42,248.95 L298.76,248.94 L299.10,248.93 L299.44,248.92 L299.78,248.91 L300.12,248.90 L300.46,248.89 L300.80,248.88 L301.14,248.87 L301.48,248.86 L301.82,248.86 L302.16,248.85 L302.50,248.85 L302.84,248.84 L303.18,248.84 L303.52,248.84 L303.86,248.83 L304.20,248.83 L304.54,248.83 L304.88,248.82 L305.22,248.82 L305.56,248.81 L305.90,248.81 L306.24,248.80 L306.58,248.79 L306.92,248.78 L307.26,248.77 L307.60,248.75 L307.94,248.73 L308.28,248.71 L308.62,248.69 L308.96,248.66 L309.30,248.63 L309.64,248.59 L309.98,248.55 L310.32,248.51 L310.66,248.46 L311.01,248.42 L311.35,248.38 L311.69,248.33 L312.03,248.28 L312.37,248.23 L312.71,248.17 L313.05,248.11 L313.39,248.04 L313.73,247.97 L314.07,247.89 L314.41,247.79 L314.75,247.69 L315.09,247.57 L315.43,247.45 L315.77,247.31 L316.11,247.15 L316.45,246.99 L316.79,246.81 L317.13,246.63 L317.47,246.43 L317.81,246.22 L318.15,246.01 L318.49,245.79 L318.83,245.56 L319.17,245.32 L319.51,245.08 L319.85,244.83 L320.19,244.57 L320.53,244.30 L320.87,244.02 L321.21,243.73 L321.55,243.44 L321.89,243.14 L322.23,242.82 L322.57,242.49 L322.91,242.16 L323.25,241.80 L323.59,241.44 L323.93,241.05 L324.27,240.64 L324.61,240.22 L324.95,239.76 L325.29,239.27 L325.63,238.76 L325.97,238.21 L326.31,237.62 L326.65,237.00 L326.99,236.34 L327.33,235.65 L327.67,234.92 L328.01,234.16 L328.35,233.38 L328.69,232.59 L329.03,231.77 L329.37,230.91 L329.71,230.02 L330.05,229.09 L330.39,228.11 L330.73,227.09 L331.07,226.05 L331.41,225.00 L331.75,223.93 L332.09,222.87 L332.43,221.81 L332.77,220.76 L333.11,219.71 L333.45,218.63 L333.79,217.51 L334.13,216.29 L334.47,214.96 L334.81,213.50 L335.15,211.97 L335.49,210.41 L335.83,208.78 L336.17,207.01 L336.51,205.10 L336.85,203.07 L337.19,200.96 L337.53,198.83 L337.87,196.74 L338.21,194.76 L338.55,192.90 L338.89,191.12 L339.23,189.38 L339.57,187.64 L339.91,185.89 L340.25,184.07 L340.59,182.13 L340.93,180.03 L341.27,177.83 L341.61,175.64 L341.95,173.51 L342.29,171.44 L342.63,169.40 L342.97,167.38 L343.31,165.36 L343.65,163.35 L343.99,161.34 L344.33,159.35 L344.67,157.37 L345.01,155.41 L345.35,153.47 L345.69,151.55 L346.03,149.63 L346.37,147.69 L346.71,145.78 L347.05,143.98 L347.39,142.35 L347.73,140.88 L348.07,139.49 L348.41,138.21 L348.75,137.09 L349.09,136.17 L349.43,135.48 L349.77,135.05 L350.11,134.87 L350.45,134.86 L350.79,134.99 L351.13,135.18 L351.47,135.39 L351.81,135.59 L352.15,135.88 L352.49,136.42 L352.83,137.28 L353.17,138.50 L353.51,140.01 L353.85,141.82 L354.19,143.81 L354.53,145.83 L354.87,147.84 L355.21,149.85 L355.55,151.86 L355.89,153.83 L356.23,155.75 L356.57,157.60 L356.91,159.35 L357.25,161.00 L357.59,162.54 L357.93,163.98 L358.27,165.34 L358.61,166.60 L358.95,167.76 L359.29,168.82 L359.63,169.78 L359.97,170.66 L360.31,171.47 L360.65,172.24 L360.99,172.99 L361.33,173.73 L361.67,174.47 L362.02,175.23 L362.36,176.00 L362.70,176.79 L363.04,177.58 L363.38,178.38 L363.72,179.17 L364.06,179.95 L364.40,180.72 L364.74,181.48 L365.08,182.23 L365.42,182.97 L365.76,183.70 L366.10,184.41 L366.44,185.11 L366.78,185.79 L367.12,186.46 L367.46,187.10 L367.80,187.71 L368.14,188.31 L368.48,188.86 L368.82,189.39 L369.16,189.89 L369.50,190.36 L369.84,190.80 L370.18,191.21 L370.52,191.58 L370.86,191.91 L371.20,192.19 L371.54,192.42 L371.88,192.60 L372.22,192.74 L372.56,192.85 L372.90,192.92 L373.24,192.96 L373.58,192.96 L373.92,192.92 L374.26,192.86 L374.60,192.77 L374.94,192.65 L375.28,192.50 L375.62,192.34 L375.96,192.16 L376.30,191.96 L376.64,191.76 L376.98,191.56 L377.32,191.36 L377.66,191.17 L378.00,190.99 L378.34,190.82 L378.68,190.67 L379.02,190.55 L379.36,190.43 L379.70,190.34 L380.04,190.25 L380.38,190.16 L380.72,190.08 L381.06,190.00 L381.40,189.92 L381.74,189.85 L382.08,189.78 L382.42,189.73 L382.76,189.67 L383.10,189.63 L383.44,189.59 L383.78,189.56 L384.12,189.54 L384.46,189.53 L384.80,189.53 L385.14,189.53 L385.48,189.54 L385.82,189.56 L386.16,189.59 L386.50,189.63 L386.84,189.67 L387.18,189.73 L387.52,189.80 L387.86,189.88 L388.20,189.96 L388.54,190.05 L388.88,190.15 L389.22,190.25 L389.56,190.36 L389.90,190.47 L390.24,190.58 L390.58,190.70 L390.92,190.82 L391.26,190.94 L391.60,191.06 L391.94,191.18 L392.28,191.30 L392.62,191.43 L392.96,191.55 L393.30,191.67 L393.64,191.79 L393.98,191.90 L394.32,192.02 L394.66,192.13 L395.00,192.25 L395.34,192.37 L395.68,192.49 L396.02,192.61 L396.36,192.73 L396.70,192.85 L397.04,192.97 L397.38,193.09 L397.72,193.20 L398.06,193.31 L398.40,193.42 L398.74,193.53 L399.08,193.62 L399.42,193.72 L399.76,193.79 L400.10,193.87 L400.44,193.93 L400.78,193.98 L401.12,194.02 L401.46,194.05 L401.80,194.07 L402.14,194.08 L402.48,194.08 L402.82,194.07 L403.16,194.05 L403.50,194.01 L403.84,193.96 L404.18,193.91 L404.52,193.84 L404.86,193.77 L405.20,193.70 L405.54,193.61 L405.88,193.52 L406.22,193.43 L406.56,193.33 L406.90,193.23 L407.24,193.11 L407.58,192.99 L407.92,192.87 L408.26,192.73 L408.60,192.58 L408.94,192.42 L409.28,192.25 L409.62,192.06 L409.96,191.87 L410.30,191.66 L410.64,191.45 L410.98,191.24 L411.32,191.02 L411.66,190.79 L412.00,190.57 L412.34,190.34 L412.68,190.11 L413.03,189.89 L413.37,189.66 L413.71,189.45 L414.05,189.24 L414.39,189.04 L414.73,188.85 L415.07,188.67 L415.41,188.51 L415.75,188.37 L416.09,188.26 L416.43,188.18 L416.77,188.12 L417.11,188.04 L417.45,187.94 L417.79,187.81 L418.13,187.67 L418.47,187.50 L418.81,187.33 L419.15,187.15 L419.49,186.97 L419.83,186.79 L420.17,186.61 L420.51,186.42 L420.85,186.23 L421.19,186.04 L421.53,185.85 L421.87,185.66 L422.21,185.46 L422.55,185.27 L422.89,185.07 L423.23,184.88 L423.57,184.69 L423.91,184.49 L424.25,184.30 L424.59,184.11 L424.93,183.91 L425.27,183.72 L425.61,183.53 L425.95,183.34 L426.29,183.15 L426.63,182.97 L426.97,182.78 L427.31,182.59 L427.65,182.41 L427.99,182.22 L428.33,182.04 L428.67,181.85 L429.01,181.67 L429.35,181.49 L429.69,181.31 L430.03,181.12 L430.37,180.94 L430.71,180.76 L431.05,180.58 L431.39,180.41 L431.73,180.23 L432.07,180.05 L432.41,179.87 L432.75,179.70 L433.09,179.52 L433.43,179.35 L433.77,179.18 L434.11,179.01 L434.45,178.84 L434.79,178.67 L435.13,178.51 L435.47,178.35 L435.81,178.19 L436.15,178.03 L436.49,177.87 L436.83,177.72 L437.17,177.56 L437.51,177.41 L437.85,177.26 L438.19,177.11 L438.53,176.97 L438.87,176.83 L439.21,176.69 L439.55,176.55 L439.89,176.43 L440.23,176.30 L440.57,176.18 L440.91,176.06 L441.25,175.95 L441.59,175.84 L441.93,175.74 L442.27,175.64 L442.61,175.55 L442.95,175.46 L443.29,175.37 L443.63,175.29 L443.97,175.21 L444.31,175.13 L444.65,175.07 L444.99,175.01 L445.33,174.95 L445.67,174.91 L446.01,174.87 L446.35,174.84 L446.69,174.83 L447.03,174.81 L447.37,174.81 L447.71,174.81 L448.05,174.82 L448.39,174.83 L448.73,174.84 L449.07,174.86 L449.41,174.89 L449.75,174.91 L450.09,174.94 L450.43,174.98 L450.77,175.02 L451.11,175.07 L451.45,175.13 L451.79,175.19 L452.13,175.26 L452.47,175.34 L452.81,175.42 L453.15,175.50 L453.49,175.59 L453.83,175.68 L454.17,175.78 L454.51,175.88 L454.85,175.98 L455.19,176.09 L455.53,176.20 L455.87,176.31 L456.21,176.42 L456.55,176.53 L456.89,176.65 L457.23,176.76 L457.57,176.88 L457.91,176.99 L458.25,177.11 L458.59,177.24 L458.93,177.36 L459.27,177.49 L459.61,177.62 L459.95,177.76 L460.29,177.89 L460.63,178.03 L460.97,178.17 L461.31,178.30 L461.65,178.44 L461.99,178.57 L462.33,178.70 L462.67,178.83 L463.01,178.96 L463.35,179.08 L463.69,179.20 L464.04,179.31 L464.38,179.42 L464.72,179.53 L465.06,179.63 L465.40,179.74 L465.74,179.84 L466.08,179.93 L466.42,180.03 L466.76,180.13 L467.10,180.23 L467.44,180.32 L467.78,180.42 L468.12,180.52 L468.46,180.62 L468.80,180.71 L469.14,180.81 L469.48,180.91 L469.82,181.01 L470.16,181.11 L470.50,181.21 L470.84,181.32 L471.18,181.42 L471.52,181.53 L471.86,181.64 L472.20,181.75 L472.54,181.85 L472.88,181.96 L473.22,182.07 L473.56,182.18 L473.90,182.29 L474.24,182.39 L474.58,182.50 L474.92,182.60 L475.26,182.71 L475.60,182.81 L475.94,182.91 L476.28,183.01 L476.62,183.11 L476.96,183.20 L477.30,183.30 L477.64,183.39 L477.98,183.49 L478.32,183.58 L478.66,183.66 L479.00,183.75 L479.34,183.84 L479.68,183.92 L480.02,184.00 L480.36,184.08 L480.70,184.16 L481.04,184.24 L481.38,184.31 L481.72,184.39 L482.06,184.46 L482.40,184.53 L482.74,184.61 L483.08,184.68 L483.42,184.75 L483.76,184.82 L484.10,184.89 L484.44,184.96 L484.78,185.02 L485.12,185.09 L485.46,185.16 L485.80,185.23 L486.14,185.29 L486.48,185.36 L486.82,185.43 L487.16,185.49 L487.50,185.56 L487.84,185.63 L488.18,185.69 L488.52,185.76 L488.86,185.83 L489.20,185.90" stroke="#b4b4b4" stroke-width="1.6"/>
<path d="M285.50,249.13 L285.84,249.12 L286.18,249.11 L286.52,249.10 L286.86,249.09 L287.20,249.08 L287.54,249.07 L287.88,249.06 L288.22,249.05 L288.56,249.04 L288.90,249.03 L289.24,249.02 L289.58,249.01 L289.92,249.00 L290.26,248.99 L290.60,248.98 L290.94,248.97 L291.28,248.96 L291.62,248.95 L291.96,248.94 L292.30,248.93 L292.64,248.92 L292.98,248.91 L293.32,248.90 L293.66,248.89 L294.00,248.88 L294.34,248.87 L294.68,248.86 L295.02,248.85 L295.36,248.84 L295.70,248.83 L296.04,248.82 L296.38,248.81 L296.72,248.80 L297.06,248.79 L297.40,248.78 L297.74,248.77 L298.08,248.76 L298.42,248.75 L298.76,248.74 L299.10,248.73 L299.44,248.72 L299.78,248.71 L300.12,248.70 L300.46,248.69 L300.80,248.68 L301.14,248.67 L301.48,248.67 L301.82,248.66 L302.16,248.66 L302.50,248.66 L302.84,248.66 L303.18,248.65 L303.52,248.65 L303.86,248.65 L304.20,248.65 L304.54,248.65 L304.88,248.65 L305.22,248.65 L305.56,248.65 L305.90,248.64 L306.24,248.64 L306.58,248.63 L306.92,248.62 L307.26,248.61 L307.60,248.60 L307.94,248.58 L308.28,248.56 L308.62,248.54 L308.96,248.51 L309.30,248.48 L309.64,248.44 L309.98,248.40 L310.32,248.36 L310.66,248.31 L311.01,248.26 L311.35,248.21 L311.69,248.16 L312.03,248.10 L312.37,248.04 L312.71,247.98 L313.05,247.91 L313.39,247.83 L313.73,247.75 L314.07,247.65 L314.41,247.55 L314.75,247.44 L315.09,247.31 L315.43,247.18 L315.77,247.03 L316.11,246.87 L316.45,246.70 L316.79,246.52 L317.13,246.33 L317.47,246.13 L317.81,245.92 L318.15,245.71 L318.49,245.48 L318.83,245.26 L319.17,245.02 L319.51,244.78 L319.85,244.53 L320.19,244.27 L320.53,244.00 L320.87,243.73 L321.21,243.45 L321.55,243.16 L321.89,242.86 L322.23,242.55 L322.57,242.23 L322.91,241.89 L323.25,241.54 L323.59,241.18 L323.93,240.80 L324.27,240.40 L324.61,239.98 L324.95,239.52 L325.29,239.03 L325.63,238.52 L325.97,237.96 L326.31,237.37 L326.65,236.74 L326.99,236.08 L327.33,235.38 L327.67,234.65 L328.01,233.89 L328.35,233.10 L328.69,232.29 L329.03,231.47 L329.37,230.63 L329.71,229.77 L330.05,228.86 L330.39,227.92 L330.73,226.94 L331.07,225.94 L331.41,224.92 L331.75,223.88 L332.09,222.83 L332.43,221.78 L332.77,220.72 L333.11,219.64 L333.45,218.53 L333.79,217.34 L334.13,216.05 L334.47,214.60 L334.81,213.02 L335.15,211.35 L335.49,209.69 L335.83,207.99 L336.17,206.17 L336.51,204.25 L336.85,202.24 L337.19,200.19 L337.53,198.12 L337.87,196.10 L338.21,194.17 L338.55,192.34 L338.89,190.58 L339.23,188.85 L339.57,187.13 L339.91,185.38 L340.25,183.57 L340.59,181.63 L340.93,179.51 L341.27,177.31 L341.61,175.17 L341.95,173.12 L342.29,171.18 L342.63,169.28 L342.97,167.40 L343.31,165.53 L343.65,163.67 L343.99,161.83 L344.33,160.01 L344.67,158.21 L345.01,156.43 L345.35,154.68 L345.69,152.96 L346.03,151.26 L346.37,149.57 L346.71,147.92 L347.05,146.35 L347.39,144.92 L347.73,143.61 L348.07,142.37 L348.41,141.21 L348.75,140.17 L349.09,139.28 L349.43,138.55 L349.77,137.99 L350.11,137.60 L350.45,137.34 L350.79,137.17 L351.13,137.08 L351.47,137.03 L351.81,137.01 L352.15,137.11 L352.49,137.46 L352.83,138.12 L353.17,139.15 L353.51,140.48 L353.85,142.09 L354.19,143.83 L354.53,145.55 L354.87,147.23 L355.21,148.91 L355.55,150.60 L355.89,152.28 L356.23,153.93 L356.57,155.54 L356.91,157.10 L357.25,158.60 L357.59,160.06 L357.93,161.49 L358.27,162.89 L358.61,164.22 L358.95,165.46 L359.29,166.61 L359.63,167.66 L359.97,168.63 L360.31,169.53 L360.65,170.38 L360.99,171.22 L361.33,172.03 L361.67,172.85 L362.02,173.66 L362.36,174.49 L362.70,175.32 L363.04,176.15 L363.38,176.97 L363.72,177.79 L364.06,178.60 L364.40,179.39 L364.74,180.18 L365.08,180.95 L365.42,181.71 L365.76,182.45 L366.10,183.18 L366.44,183.89 L366.78,184.59 L367.12,185.26 L367.46,185.92 L367.80,186.54 L368.14,187.15 L368.48,187.71 L368.82,188.24 L369.16,188.75 L369.50,189.22 L369.84,189.66 L370.18,190.07 L370.52,190.44 L370.86,190.76 L371.20,191.03 L371.54,191.26 L371.88,191.45 L372.22,191.60 L372.56,191.71 L372.90,191.79 L373.24,191.85 L373.58,191.87 L373.92,191.86 L374.26,191.83 L374.60,191.78 L374.94,191.70 L375.28,191.59 L375.62,191.46 L375.96,191.31 L376.30,191.15 L376.64,190.98 L376.98,190.80 L377.32,190.62 L377.66,190.45 L378.00,190.28 L378.34,190.13 L378.68,189.99 L379.02,189.87 L379.36,189.76 L379.70,189.67 L380.04,189.59 L380.38,189.51 L380.72,189.43 L381.06,189.36 L381.40,189.28 L381.74,189.21 L382.08,189.15 L382.42,189.09 L382.76,189.04 L383.10,188.99 L383.44,188.95 L383.78,188.91 L384.12,188.89 L384.46,188.87 L384.80,188.86 L385.14,188.86 L385.48,188.87 L385.82,188.88 L386.16,188.91 L386.50,188.95 L386.84,188.99 L387.18,189.05 L387.52,189.12 L387.86,189.19 L388.20,189.28 L388.54,189.37 L388.88,189.48 L389.22,189.58 L389.56,189.69 L389.90,189.81 L390.24,189.93 L390.58,190.05 L390.92,190.17 L391.26,190.30 L391.60,190.43 L391.94,190.55 L392.28,190.68 L392.62,190.81 L392.96,190.94 L393.30,191.06 L393.64,191.18 L393.98,191.30 L394.32,191.42 L394.66,191.53 L395.00,191.65 L395.34,191.77 L395.68,191.89 L396.02,192.02 L396.36,192.15 L396.70,192.27 L397.04,192.40 L397.38,192.52 L397.72,192.64 L398.06,192.76 L398.40,192.88 L398.74,192.98 L399.08,193.08 L399.42,193.18 L399.76,193.26 L400.10,193.33 L400.44,193.40 L400.78,193.44 L401.12,193.48 L401.46,193.51 L401.80,193.52 L402.14,193.52 L402.48,193.50 L402.82,193.47 L403.16,193.43 L403.50,193.37 L403.84,193.30 L404.18,193.23 L404.52,193.14 L404.86,193.05 L405.20,192.95 L405.54,192.85 L405.88,192.75 L406.22,192.64 L406.56,192.53 L406.90,192.42 L407.24,192.30 L407.58,192.18 L407.92,192.05 L408.26,191.91 L408.60,191.77 L408.94,191.61 L409.28,191.45 L409.62,191.27 L409.96,191.10 L410.30,190.91 L410.64,190.72 L410.98,190.53 L411.32,190.33 L411.66,190.13 L412.00,189.93 L412.34,189.73 L412.68,189.52 L413.03,189.32 L413.37,189.12 L413.71,188.92 L414.05,188.72 L414.39,188.53 L414.73,188.35 L415.07,188.17 L415.41,188.00 L415.75,187.83 L416.09,187.69 L416.43,187.55 L416.77,187.42 L417.11,187.28 L417.45,187.12 L417.79,186.94 L418.13,186.75 L418.47,186.55 L418.81,186.36 L419.15,186.17 L419.49,185.97 L419.83,185.79 L420.17,185.61 L420.51,185.43 L420.85,185.24 L421.19,185.06 L421.53,184.88 L421.87,184.69 L422.21,184.51 L422.55,184.33 L422.89,184.15 L423.23,183.97 L423.57,183.79 L423.91,183.61 L424.25,183.43 L424.59,183.26 L424.93,183.08 L425.27,182.91 L425.61,182.73 L425.95,182.56 L426.29,182.39 L426.63,182.23 L426.97,182.06 L427.31,181.89 L427.65,181.73 L427.99,181.56 L428.33,181.40 L428.67,181.24 L429.01,181.08 L429.35,180.92 L429.69,180.76 L430.03,180.60 L430.37,180.44 L430.71,180.29 L431.05,180.13 L431.39,179.97 L431.73,179.82 L432.07,179.66 L432.41,179.51 L432.75,179.36 L433.09,179.20 L433.43,179.05 L433.77,178.90 L434.11,178.75 L434.45,178.61 L434.79,178.46 L435.13,178.32 L435.47,178.18 L435.81,178.04 L436.15,177.90 L436.49,177.76 L436.83,177.62 L437.17,177.49 L437.51,177.36 L437.85,177.23 L438.19,177.10 L438.53,176.97 L438.87,176.85 L439.21,176.73 L439.55,176.61 L439.89,176.50 L440.23,176.39 L440.57,176.28 L440.91,176.18 L441.25,176.08 L441.59,175.99 L441.93,175.90 L442.27,175.81 L442.61,175.73 L442.95,175.66 L443.29,175.58 L443.63,175.52 L443.97,175.46 L444.31,175.40 L444.65,175.35 L444.99,175.31 L445.33,175.28 L445.67,175.26 L446.01,175.25 L446.35,175.25 L446.69,175.25 L447.03,175.27 L447.37,175.29 L447.71,175.32 L448.05,175.35 L448.39,175.39 L448.73,175.42 L449.07,175.46 L449.41,175.50 L449.75,175.54 L450.09,175.59 L450.43,175.64 L450.77,175.69 L451.11,175.74 L451.45,175.81 L451.79,175.88 L452.13,175.95 L452.47,176.03 L452.81,176.11 L453.15,176.20 L453.49,176.29 L453.83,176.38 L454.17,176.48 L454.51,176.58 L454.85,176.68 L455.19,176.78 L455.53,176.88 L455.87,176.99 L456.21,177.09 L456.55,177.20 L456.89,177.31 L457.23,177.41 L457.57,177.52 L457.91,177.63 L458.25,177.74 L458.59,177.85 L458.93,177.96 L459.27,178.08 L459.61,178.19 L459.95,178.31 L460.29,178.43 L460.63,178.55 L460.97,178.66 L461.31,178.78 L461.65,178.89 L461.99,179.00 L462.33,179.11 L462.67,179.21 L463.01,179.32 L463.35,179.41 L463.69,179.50 L464.04,179.59 L464.38,179.68 L464.72,179.76 L465.06,179.84 L465.40,179.91 L465.74,179.99 L466.08,180.06 L466.42,180.13 L466.76,180.20 L467.10,180.27 L467.44,180.34 L467.78,180.41 L468.12,180.47 L468.46,180.54 L468.80,180.61 L469.14,180.68 L469.48,180.76 L469.82,180.83 L470.16,180.91 L470.50,180.98 L470.84,181.06 L471.18,181.15 L471.52,181.23 L471.86,181.32 L472.20,181.40 L472.54,181.49 L472.88,181.58 L473.22,181.67 L473.56,181.76 L473.90,181.85 L474.24,181.95 L474.58,182.04 L474.92,182.13 L475.26,182.22 L475.60,182.31 L475.94,182.40 L476.28,182.48 L476.62,182.57 L476.96,182.66 L477.30,182.74 L477.64,182.82 L477.98,182.90 L478.32,182.98 L478.66,183.06 L479.00,183.14 L479.34,183.21 L479.68,183.29 L480.02,183.35 L480.36,183.42 L480.70,183.49 L481.04,183.55 L481.38,183.62 L481.72,183.68 L482.06,183.74 L482.40,183.80 L482.74,183.86 L483.08,183.92 L483.42,183.98 L483.76,184.03 L484.10,184.09 L484.44,184.14 L484.78,184.20 L485.12,184.25 L485.46,184.31 L485.80,184.36 L486.14,184.42 L486.48,184.47 L486.82,184.52 L487.16,184.57 L487.50,184.63 L487.84,184.68 L488.18,184.73 L488.52,184.79 L488.86,184.84 L489.20,184.90" stroke="#c6c6c6" stroke-width="1.6"/>
<path d="M285.50,248.97 L285.84,248.96 L286.18,248.94 L286.52,248.93 L286.86,248.92 L287.20,248.91 L287.54,248.90 L287.88,248.89 L288.22,248.88 L288.56,248.87 L288.90,248.85 L289.24,248.84 L289.58,248.83 L289.92,248.82 L290.26,248.81 L290.60,248.80 L290.94,248.79 L291.28,248.78 L291.62,248.77 L291.96,248.75 L292.30,248.74 L292.64,248.73 L292.98,248.72 L293.32,248.71 L293.66,248.70 L294.00,248.69 L294.34,248.68 L294.68,248.67 L295.02,248.65 L295.36,248.64 L295.70,248.63 L296.04,248.62 L296.38,248.61 L296.72,248.60 L297.06,248.59 L297.40,248.58 L297.74,248.57 L298.08,248.56 L298.42,248.55 L298.76,248.54 L299.10,248.53 L299.44,248.52 L299.78,248.51 L300.12,248.50 L300.46,248.49 L300.80,248.48 L301.14,248.48 L301.48,248.47 L301.82,248.47 L302.16,248.47 L302.50,248.47 L302.84,248.47 L303.18,248.47 L303.52,248.47 L303.86,248.47 L304.20,248.47 L304.54,248.48 L304.88,248.48 L305.22,248.48 L305.56,248.48 L305.90,248.48 L306.24,248.48 L306.58,248.47 L306.92,248.47 L307.26,248.46 L307.60,248.45 L307.94,248.43 L308.28,248.41 L308.62,248.39 L308.96,248.36 L309.30,248.33 L309.64,248.29 L309.98,248.25 L310.32,248.20 L310.66,248.15 L311.01,248.10 L311.35,248.05 L311.69,247.99 L312.03,247.93 L312.37,247.86 L312.71,247.79 L313.05,247.71 L313.39,247.62 L313.73,247.53 L314.07,247.42 L314.41,247.31 L314.75,247.19 L315.09,247.05 L315.43,246.90 L315.77,246.75 L316.11,246.58 L316.45,246.41 L316.79,246.22 L317.13,246.02 L317.47,245.82 L317.81,245.61 L318.15,245.40 L318.49,245.18 L318.83,244.95 L319.17,244.72 L319.51,244.48 L319.85,244.23 L320.19,243.97 L320.53,243.71 L320.87,243.44 L321.21,243.16 L321.55,242.88 L321.89,242.58 L322.23,242.28 L322.57,241.96 L322.91,241.63 L323.25,241.28 L323.59,240.93 L323.93,240.55 L324.27,240.15 L324.61,239.73 L324.95,239.28 L325.29,238.79 L325.63,238.27 L325.97,237.72 L326.31,237.12 L326.65,236.49 L326.99,235.82 L327.33,235.12 L327.67,234.38 L328.01,233.61 L328.35,232.81 L328.69,232.00 L329.03,231.18 L329.37,230.36 L329.71,229.51 L330.05,228.63 L330.39,227.72 L330.73,226.78 L331.07,225.82 L331.41,224.83 L331.75,223.83 L332.09,222.80 L332.43,221.75 L332.77,220.68 L333.11,219.58 L333.45,218.42 L333.79,217.18 L334.13,215.80 L334.47,214.25 L334.81,212.53 L335.15,210.73 L335.49,208.97 L335.83,207.20 L336.17,205.34 L336.51,203.40 L336.85,201.42 L337.19,199.41 L337.53,197.41 L337.87,195.45 L338.21,193.57 L338.55,191.78 L338.89,190.04 L339.23,188.33 L339.57,186.62 L339.91,184.87 L340.25,183.07 L340.59,181.13 L340.93,178.99 L341.27,176.79 L341.61,174.69 L341.95,172.74 L342.29,170.92 L342.63,169.16 L342.97,167.42 L343.31,165.70 L343.65,164.00 L343.99,162.33 L344.33,160.68 L344.67,159.05 L345.01,157.45 L345.35,155.89 L345.69,154.37 L346.03,152.89 L346.37,151.45 L346.71,150.05 L347.05,148.72 L347.39,147.49 L347.73,146.34 L348.07,145.25 L348.41,144.21 L348.75,143.26 L349.09,142.39 L349.43,141.61 L349.77,140.93 L350.11,140.33 L350.45,139.81 L350.79,139.36 L351.13,138.98 L351.47,138.66 L351.81,138.43 L352.15,138.34 L352.49,138.50 L352.83,138.96 L353.17,139.80 L353.51,140.95 L353.85,142.36 L354.19,143.85 L354.53,145.27 L354.87,146.62 L355.21,147.98 L355.55,149.35 L355.89,150.72 L356.23,152.10 L356.57,153.48 L356.91,154.84 L357.25,156.20 L357.59,157.59 L357.93,159.01 L358.27,160.44 L358.61,161.84 L358.95,163.17 L359.29,164.41 L359.63,165.55 L359.97,166.60 L360.31,167.59 L360.65,168.53 L360.99,169.44 L361.33,170.34 L361.67,171.22 L362.02,172.10 L362.36,172.98 L362.70,173.85 L363.04,174.71 L363.38,175.57 L363.72,176.41 L364.06,177.24 L364.40,178.07 L364.74,178.88 L365.08,179.67 L365.42,180.44 L365.76,181.20 L366.10,181.94 L366.44,182.67 L366.78,183.38 L367.12,184.07 L367.46,184.74 L367.80,185.37 L368.14,185.98 L368.48,186.56 L368.82,187.10 L369.16,187.61 L369.50,188.09 L369.84,188.52 L370.18,188.93 L370.52,189.29 L370.86,189.60 L371.20,189.88 L371.54,190.11 L371.88,190.30 L372.22,190.46 L372.56,190.58 L372.90,190.67 L373.24,190.74 L373.58,190.78 L373.92,190.80 L374.26,190.80 L374.60,190.79 L374.94,190.75 L375.28,190.68 L375.62,190.58 L375.96,190.47 L376.30,190.34 L376.64,190.19 L376.98,190.04 L377.32,189.88 L377.66,189.73 L378.00,189.58 L378.34,189.44 L378.68,189.31 L379.02,189.19 L379.36,189.09 L379.70,189.01 L380.04,188.93 L380.38,188.86 L380.72,188.79 L381.06,188.72 L381.40,188.64 L381.74,188.58 L382.08,188.51 L382.42,188.45 L382.76,188.40 L383.10,188.34 L383.44,188.30 L383.78,188.26 L384.12,188.23 L384.46,188.21 L384.80,188.20 L385.14,188.19 L385.48,188.19 L385.82,188.21 L386.16,188.23 L386.50,188.26 L386.84,188.31 L387.18,188.37 L387.52,188.43 L387.86,188.51 L388.20,188.60 L388.54,188.70 L388.88,188.80 L389.22,188.91 L389.56,189.03 L389.90,189.15 L390.24,189.27 L390.58,189.40 L390.92,189.53 L391.26,189.66 L391.60,189.79 L391.94,189.93 L392.28,190.06 L392.62,190.19 L392.96,190.32 L393.30,190.45 L393.64,190.57 L393.98,190.69 L394.32,190.81 L394.66,190.93 L395.00,191.05 L395.34,191.17 L395.68,191.30 L396.02,191.43 L396.36,191.56 L396.70,191.69 L397.04,191.83 L397.38,191.96 L397.72,192.08 L398.06,192.21 L398.40,192.33 L398.74,192.44 L399.08,192.54 L399.42,192.64 L399.76,192.73 L400.10,192.80 L400.44,192.87 L400.78,192.91 L401.12,192.94 L401.46,192.96 L401.80,192.96 L402.14,192.95 L402.48,192.92 L402.82,192.88 L403.16,192.81 L403.50,192.74 L403.84,192.64 L404.18,192.54 L404.52,192.44 L404.86,192.32 L405.20,192.21 L405.54,192.09 L405.88,191.97 L406.22,191.85 L406.56,191.74 L406.90,191.61 L407.24,191.49 L407.58,191.36 L407.92,191.23 L408.26,191.09 L408.60,190.95 L408.94,190.80 L409.28,190.65 L409.62,190.49 L409.96,190.33 L410.30,190.16 L410.64,189.99 L410.98,189.82 L411.32,189.65 L411.66,189.47 L412.00,189.29 L412.34,189.12 L412.68,188.93 L413.03,188.75 L413.37,188.57 L413.71,188.39 L414.05,188.21 L414.39,188.03 L414.73,187.84 L415.07,187.66 L415.41,187.48 L415.75,187.30 L416.09,187.11 L416.43,186.93 L416.77,186.73 L417.11,186.52 L417.45,186.30 L417.79,186.06 L418.13,185.83 L418.47,185.60 L418.81,185.39 L419.15,185.18 L419.49,184.98 L419.83,184.79 L420.17,184.61 L420.51,184.43 L420.85,184.26 L421.19,184.08 L421.53,183.90 L421.87,183.73 L422.21,183.56 L422.55,183.39 L422.89,183.22 L423.23,183.05 L423.57,182.89 L423.91,182.73 L424.25,182.57 L424.59,182.41 L424.93,182.25 L425.27,182.09 L425.61,181.94 L425.95,181.79 L426.29,181.63 L426.63,181.49 L426.97,181.34 L427.31,181.19 L427.65,181.05 L427.99,180.91 L428.33,180.77 L428.67,180.63 L429.01,180.49 L429.35,180.35 L429.69,180.22 L430.03,180.08 L430.37,179.94 L430.71,179.81 L431.05,179.68 L431.39,179.54 L431.73,179.41 L432.07,179.28 L432.41,179.15 L432.75,179.01 L433.09,178.89 L433.43,178.76 L433.77,178.63 L434.11,178.50 L434.45,178.38 L434.79,178.25 L435.13,178.13 L435.47,178.01 L435.81,177.89 L436.15,177.77 L436.49,177.65 L436.83,177.53 L437.17,177.42 L437.51,177.30 L437.85,177.19 L438.19,177.08 L438.53,176.97 L438.87,176.87 L439.21,176.77 L439.55,176.66 L439.89,176.57 L440.23,176.47 L440.57,176.38 L440.91,176.29 L441.25,176.21 L441.59,176.13 L441.93,176.06 L442.27,175.98 L442.61,175.91 L442.95,175.86 L443.29,175.80 L443.63,175.75 L443.97,175.71 L444.31,175.67 L444.65,175.64 L444.99,175.62 L445.33,175.61 L445.67,175.61 L446.01,175.62 L446.35,175.65 L446.69,175.68 L447.03,175.72 L447.37,175.77 L447.71,175.83 L448.05,175.89 L448.39,175.94 L448.73,176.00 L449.07,176.06 L449.41,176.12 L449.75,176.18 L450.09,176.23 L450.43,176.29 L450.77,176.35 L451.11,176.42 L451.45,176.49 L451.79,176.57 L452.13,176.65 L452.47,176.73 L452.81,176.81 L453.15,176.90 L453.49,176.99 L453.83,177.08 L454.17,177.18 L454.51,177.27 L454.85,177.37 L455.19,177.47 L455.53,177.57 L455.87,177.66 L456.21,177.76 L456.55,177.86 L456.89,177.96 L457.23,178.06 L457.57,178.16 L457.91,178.26 L458.25,178.36 L458.59,178.46 L458.93,178.56 L459.27,178.67 L459.61,178.77 L459.95,178.87 L460.29,178.97 L460.63,179.06 L460.97,179.16 L461.31,179.25 L461.65,179.34 L461.99,179.43 L462.33,179.52 L462.67,179.59 L463.01,179.67 L463.35,179.74 L463.69,179.81 L464.04,179.87 L464.38,179.93 L464.72,179.99 L465.06,180.04 L465.40,180.09 L465.74,180.14 L466.08,180.18 L466.42,180.23 L466.76,180.27 L467.10,180.31 L467.44,180.35 L467.78,180.39 L468.12,180.43 L468.46,180.47 L468.80,180.51 L469.14,180.55 L469.48,180.60 L469.82,180.65 L470.16,180.70 L470.50,180.75 L470.84,180.81 L471.18,180.87 L471.52,180.93 L471.86,181.00 L472.20,181.06 L472.54,181.13 L472.88,181.20 L473.22,181.28 L473.56,181.35 L473.90,181.42 L474.24,181.50 L474.58,181.58 L474.92,181.65 L475.26,181.73 L475.60,181.81 L475.94,181.88 L476.28,181.96 L476.62,182.03 L476.96,182.11 L477.30,182.18 L477.64,182.25 L477.98,182.32 L478.32,182.39 L478.66,182.46 L479.00,182.52 L479.34,182.59 L479.68,182.65 L480.02,182.71 L480.36,182.77 L480.70,182.82 L481.04,182.87 L481.38,182.92 L481.72,182.97 L482.06,183.02 L482.40,183.07 L482.74,183.11 L483.08,183.16 L483.42,183.20 L483.76,183.25 L484.10,183.29 L484.44,183.33 L484.78,183.37 L485.12,183.42 L485.46,183.46 L485.80,183.50 L486.14,183.54 L486.48,183.58 L486.82,183.62 L487.16,183.66 L487.50,183.70 L487.84,183.74 L488.18,183.78 L488.52,183.82 L488.86,183.86 L489.20,183.90" stroke="#d0d0d0" stroke-width="1.6"/>
<path d="M285.50,248.80 C287.92,248.72 295.92,248.42 300.00,248.30 C304.08,248.18 307.17,248.52 310.00,248.10 C312.83,247.68 314.57,247.23 317.00,245.80 C319.43,244.37 322.53,242.13 324.60,239.50 C326.67,236.87 327.93,233.50 329.40,230.00 C330.87,226.50 332.38,222.13 333.40,218.50 C334.42,214.87 334.73,212.27 335.50,208.20 C336.27,204.13 337.20,198.42 338.00,194.10 C338.80,189.78 339.60,186.13 340.30,182.30 C341.00,178.47 341.27,175.65 342.20,171.10 C343.13,166.55 344.72,159.35 345.90,155.00 C347.08,150.65 348.22,147.58 349.30,145.00 C350.38,142.42 351.52,139.47 352.40,139.50 C353.28,139.53 353.80,142.85 354.60,145.20 C355.40,147.55 356.27,150.25 357.20,153.60 C358.13,156.95 358.80,160.97 360.20,165.30 C361.60,169.63 363.95,175.87 365.60,179.60 C367.25,183.33 368.60,186.00 370.10,187.70 C371.60,189.40 372.97,189.70 374.60,189.80 C376.23,189.90 377.88,188.67 379.90,188.30 C381.92,187.93 384.30,187.28 386.70,187.60 C389.10,187.92 391.92,189.40 394.30,190.20 C396.68,191.00 398.98,192.27 401.00,192.40 C403.02,192.53 404.07,191.87 406.40,191.00 C408.73,190.13 412.73,188.42 415.00,187.20 C417.27,185.98 417.67,184.92 420.00,183.70 C422.33,182.48 425.23,181.17 429.00,179.90 C432.77,178.63 439.07,176.60 442.60,176.10 C446.13,175.60 446.93,176.27 450.20,176.90 C453.47,177.53 458.68,179.28 462.20,179.90 C465.72,180.52 468.28,180.23 471.30,180.60 C474.32,180.97 477.32,181.72 480.30,182.10 C483.28,182.48 487.72,182.77 489.20,182.90" stroke="#f71d31" stroke-width="1.9"/>
</g>
<path d="M359.60,143.20 L360.52,148.01" stroke="#151515" stroke-width="2.2" fill="none"/><defs><linearGradient id="ag1" gradientUnits="userSpaceOnUse" x1="361.09" y1="150.96" x2="362.05" y2="155.97"><stop offset="0.35" stop-color="#151515"/><stop offset="0.65" stop-color="#f71d31"/></linearGradient></defs><path d="M361.09,150.96 L362.05,155.97" stroke="url(#ag1)" stroke-width="2.2" fill="none"/><path d="M364.20,167.20 L359.60,160.75 L366.09,159.51 Z" fill="#f71d31"/>
<path d="M372.00,209.20 L375.45,205.05" stroke="#151515" stroke-width="2.2" fill="none"/><defs><linearGradient id="ag2" gradientUnits="userSpaceOnUse" x1="376.86" y1="203.35" x2="379.41" y2="200.28"><stop offset="0.35" stop-color="#151515"/><stop offset="0.65" stop-color="#f71d31"/></linearGradient></defs><path d="M376.86,203.35 L379.41,200.28" stroke="url(#ag2)" stroke-width="2.2" fill="none"/><path d="M383.30,195.60 L381.77,202.13 L377.16,198.30 Z" fill="#f71d31"/>
<path d="M442.30,162.60 L438.54,165.58" stroke="#151515" stroke-width="2.2" fill="none"/><defs><linearGradient id="ag3" gradientUnits="userSpaceOnUse" x1="435.87" y1="167.69" x2="432.19" y2="170.61"><stop offset="0.35" stop-color="#151515"/><stop offset="0.65" stop-color="#f71d31"/></linearGradient></defs><path d="M435.87,167.69 L432.19,170.61" stroke="url(#ag3)" stroke-width="2.2" fill="none"/><path d="M425.40,176.00 L428.14,170.12 L431.75,174.67 Z" fill="#f71d31"/>
<rect x="284.8" y="32.5" width="205.10" height="223.10" fill="none" stroke="#151515" stroke-width="1.6"/>
<path d="M284.80,255.6 V259.1 M325.82,255.6 V259.1 M366.84,255.6 V259.1 M407.86,255.6 V259.1 M448.88,255.6 V259.1 M489.90,255.6 V259.1 M305.31,255.6 V257.9 M346.33,255.6 V257.9 M387.35,255.6 V257.9 M428.37,255.6 V257.9 M469.39,255.6 V257.9" stroke="#151515" stroke-width="1.3"/>
<text x="284.80" y="270" class="tk" font-size="10.2" text-anchor="middle">8320</text>
<text x="325.82" y="270" class="tk" font-size="10.2" text-anchor="middle">8340</text>
<text x="366.84" y="270" class="tk" font-size="10.2" text-anchor="middle">8360</text>
<text x="407.86" y="270" class="tk" font-size="10.2" text-anchor="middle">8380</text>
<text x="448.88" y="270" class="tk" font-size="10.2" text-anchor="middle">8400</text>
<text x="489.90" y="270" class="tk" font-size="10.2" text-anchor="middle">8420</text>
<defs><clipPath id="cc"><rect x="550.0" y="39.2" width="204.80" height="215.40"/></clipPath></defs>
<g clip-path="url(#cc)">
<path d="M557.52,47.30 L565.04,47.30 L572.56,47.30 L580.08,47.30 L587.60,47.30 L595.12,47.30 L602.64,47.30 L610.16,47.30 L617.68,47.30 L625.20,47.30 L632.72,47.30 L640.24,47.30 L647.76,47.30 L655.28,47.30 L662.80,47.30 L670.32,51.24 L677.84,57.87 L685.36,68.03 L692.88,74.46 L700.40,88.76 L707.92,105.55 L715.44,125.66 L722.96,170.85 L730.48,181.01 L738.00,188.06 L745.52,188.06 L753.04,188.06" fill="none" stroke="#151515" stroke-width="1.2" stroke-dasharray="1.1,1.7"/>
<path d="M557.52,254.60 L565.04,254.60 L572.56,254.60 L580.08,254.60 L587.60,254.60 L595.12,254.60 L602.64,254.60 L610.16,254.60 L617.68,254.60 L625.20,254.60 L632.72,254.60 L640.24,254.60 L647.76,254.60 L655.28,254.60 L662.80,254.60 L670.32,250.66 L677.84,244.44 L685.36,233.87 L692.88,228.07 L700.40,213.14 L707.92,196.14 L715.44,175.83 L722.96,130.63 L730.48,120.68 L738.00,114.05 L745.52,114.05 L753.04,114.05" fill="none" stroke="#f71d31" stroke-width="1.2" stroke-dasharray="1.1,1.7"/>
<rect x="554.92" y="44.70" width="5.2" height="5.2" fill="#151515"/>
<rect x="562.44" y="44.70" width="5.2" height="5.2" fill="#151515"/>
<rect x="569.96" y="44.70" width="5.2" height="5.2" fill="#151515"/>
<rect x="577.48" y="44.70" width="5.2" height="5.2" fill="#151515"/>
<rect x="585.00" y="44.70" width="5.2" height="5.2" fill="#151515"/>
<rect x="592.52" y="44.70" width="5.2" height="5.2" fill="#151515"/>
<rect x="600.04" y="44.70" width="5.2" height="5.2" fill="#151515"/>
<rect x="607.56" y="44.70" width="5.2" height="5.2" fill="#151515"/>
<rect x="615.08" y="44.70" width="5.2" height="5.2" fill="#151515"/>
<rect x="622.60" y="44.70" width="5.2" height="5.2" fill="#151515"/>
<rect x="630.12" y="44.70" width="5.2" height="5.2" fill="#151515"/>
<rect x="637.64" y="44.70" width="5.2" height="5.2" fill="#151515"/>
<rect x="645.16" y="44.70" width="5.2" height="5.2" fill="#151515"/>
<rect x="652.68" y="44.70" width="5.2" height="5.2" fill="#151515"/>
<rect x="660.20" y="44.70" width="5.2" height="5.2" fill="#151515"/>
<rect x="667.72" y="48.64" width="5.2" height="5.2" fill="#151515"/>
<rect x="675.24" y="55.27" width="5.2" height="5.2" fill="#151515"/>
<rect x="682.76" y="65.43" width="5.2" height="5.2" fill="#151515"/>
<rect x="690.28" y="71.86" width="5.2" height="5.2" fill="#151515"/>
<rect x="697.80" y="86.16" width="5.2" height="5.2" fill="#151515"/>
<rect x="705.32" y="102.95" width="5.2" height="5.2" fill="#151515"/>
<rect x="712.84" y="123.06" width="5.2" height="5.2" fill="#151515"/>
<rect x="720.36" y="168.25" width="5.2" height="5.2" fill="#151515"/>
<rect x="727.88" y="178.41" width="5.2" height="5.2" fill="#151515"/>
<rect x="735.40" y="185.46" width="5.2" height="5.2" fill="#151515"/>
<rect x="742.92" y="185.46" width="5.2" height="5.2" fill="#151515"/>
<rect x="750.44" y="185.46" width="5.2" height="5.2" fill="#151515"/>
<circle cx="557.52" cy="254.60" r="2.85" fill="#f0202e"/>
<circle cx="565.04" cy="254.60" r="2.85" fill="#f0202e"/>
<circle cx="572.56" cy="254.60" r="2.85" fill="#f0202e"/>
<circle cx="580.08" cy="254.60" r="2.85" fill="#f0202e"/>
<circle cx="587.60" cy="254.60" r="2.85" fill="#f0202e"/>
<circle cx="595.12" cy="254.60" r="2.85" fill="#f0202e"/>
<circle cx="602.64" cy="254.60" r="2.85" fill="#f0202e"/>
<circle cx="610.16" cy="254.60" r="2.85" fill="#f0202e"/>
<circle cx="617.68" cy="254.60" r="2.85" fill="#f0202e"/>
<circle cx="625.20" cy="254.60" r="2.85" fill="#f0202e"/>
<circle cx="632.72" cy="254.60" r="2.85" fill="#f0202e"/>
<circle cx="640.24" cy="254.60" r="2.85" fill="#f0202e"/>
<circle cx="647.76" cy="254.60" r="2.85" fill="#f0202e"/>
<circle cx="655.28" cy="254.60" r="2.85" fill="#f0202e"/>
<circle cx="662.80" cy="254.60" r="2.85" fill="#f0202e"/>
<circle cx="670.32" cy="250.66" r="2.85" fill="#f0202e"/>
<circle cx="677.84" cy="244.44" r="2.85" fill="#f0202e"/>
<circle cx="685.36" cy="233.87" r="2.85" fill="#f0202e"/>
<circle cx="692.88" cy="228.07" r="2.85" fill="#f0202e"/>
<circle cx="700.40" cy="213.14" r="2.85" fill="#f0202e"/>
<circle cx="707.92" cy="196.14" r="2.85" fill="#f0202e"/>
<circle cx="715.44" cy="175.83" r="2.85" fill="#f0202e"/>
<circle cx="722.96" cy="130.63" r="2.85" fill="#f0202e"/>
<circle cx="730.48" cy="120.68" r="2.85" fill="#f0202e"/>
<circle cx="738.00" cy="114.05" r="2.85" fill="#f0202e"/>
<circle cx="745.52" cy="114.05" r="2.85" fill="#f0202e"/>
<circle cx="753.04" cy="114.05" r="2.85" fill="#f0202e"/>
</g>
<rect x="550.0" y="39.2" width="204.80" height="215.40" fill="none" stroke="#151515" stroke-width="1.6"/>
<path d="M550.00,254.6 V258.1 M587.60,254.6 V258.1 M625.20,254.6 V258.1 M662.80,254.6 V258.1 M700.40,254.6 V258.1 M738.00,254.6 V258.1 M550.0,254.60 H546.5 M550.0,213.14 H546.5 M550.0,171.68 H546.5 M550.0,130.22 H546.5 M550.0,88.76 H546.5 M550.0,47.30 H546.5 M550.0,233.87 H547.7 M550.0,192.41 H547.7 M550.0,150.95 H547.7 M550.0,109.49 H547.7 M550.0,68.03 H547.7 M572.67,39.2 V35.7 M595.34,39.2 V35.7 M618.01,39.2 V35.7 M640.68,39.2 V35.7 M663.35,39.2 V35.7 M686.02,39.2 V35.7 M708.69,39.2 V35.7 M731.36,39.2 V35.7 M754.03,39.2 V35.7 M561.34,39.2 V36.900000000000006 M584.00,39.2 V36.900000000000006 M606.67,39.2 V36.900000000000006 M629.35,39.2 V36.900000000000006 M652.01,39.2 V36.900000000000006 M674.68,39.2 V36.900000000000006 M697.36,39.2 V36.900000000000006 M720.02,39.2 V36.900000000000006 M742.70,39.2 V36.900000000000006" stroke="#151515" stroke-width="1.3"/>
<text x="550.00" y="268.6" class="tk" font-size="10.2" text-anchor="middle">0</text>
<text x="587.60" y="268.6" class="tk" font-size="10.2" text-anchor="middle">5</text>
<text x="625.20" y="268.6" class="tk" font-size="10.2" text-anchor="middle">10</text>
<text x="662.80" y="268.6" class="tk" font-size="10.2" text-anchor="middle">15</text>
<text x="700.40" y="268.6" class="tk" font-size="10.2" text-anchor="middle">20</text>
<text x="738.00" y="268.6" class="tk" font-size="10.2" text-anchor="middle">25</text>
<text x="543.2" y="258.20" class="tk" font-size="10.2" text-anchor="end">0.0</text>
<text x="543.2" y="216.74" class="tk" font-size="10.2" text-anchor="end">0.2</text>
<text x="543.2" y="175.28" class="tk" font-size="10.2" text-anchor="end">0.4</text>
<text x="543.2" y="133.82" class="tk" font-size="10.2" text-anchor="end">0.6</text>
<text x="543.2" y="92.36" class="tk" font-size="10.2" text-anchor="end">0.8</text>
<text x="543.2" y="50.90" class="tk" font-size="10.2" text-anchor="end">1.0</text>
<text x="572.67" y="31.8" class="tk" font-size="10.2" text-anchor="middle">100</text>
<text x="595.34" y="31.8" class="tk" font-size="10.2" text-anchor="middle">200</text>
<text x="618.01" y="31.8" class="tk" font-size="10.2" text-anchor="middle">300</text>
<text x="640.68" y="31.8" class="tk" font-size="10.2" text-anchor="middle">400</text>
<text x="663.35" y="31.8" class="tk" font-size="10.2" text-anchor="middle">500</text>
<text x="686.02" y="31.8" class="tk" font-size="10.2" text-anchor="middle">600</text>
<text x="708.69" y="31.8" class="tk" font-size="10.2" text-anchor="middle">700</text>
<text x="731.36" y="31.8" class="tk" font-size="10.2" text-anchor="middle">800</text>
<text transform="translate(211.998,47.209) scale(0.33393,0.33913)" font-size="50" fill="#151515" stroke="#151515" stroke-width="1.129">(a)</text>
<text transform="translate(195.420,81.100) scale(0.24000,0.25429)" font-size="50" fill="#f71d31" stroke="#f71d31" stroke-width="1.538">800 °C</text>
<text transform="translate(195.420,114.600) scale(0.24000,0.24857)" font-size="50" fill="#151515" stroke="#151515" stroke-width="1.556">700 °C</text>
<text transform="translate(195.420,147.100) scale(0.24000,0.24857)" font-size="50" fill="#151515" stroke="#151515" stroke-width="1.556">600 °C</text>
<text transform="translate(195.420,181.900) scale(0.24000,0.25714)" font-size="50" fill="#151515" stroke="#151515" stroke-width="1.529">500 °C</text>
<text transform="translate(195.662,214.400) scale(0.23841,0.24857)" font-size="50" fill="#151515" stroke="#151515" stroke-width="1.561">400 °C</text>
<text transform="translate(195.762,246.300) scale(0.23775,0.23143)" font-size="50" fill="#151515" stroke="#151515" stroke-width="1.620">300 °C</text>
<text transform="translate(110.114,289.800) scale(0.34322,0.35000)" font-size="50" fill="#151515" stroke="#151515" stroke-width="1.096">2<tspan font-weight="normal">θ</tspan> [°]</text>
<text transform="translate(13.383,197.605) scale(0.32174,0.33483) rotate(-90)" font-size="50" fill="#151515" stroke="#151515" stroke-width="1.158">Intensity [a.u.]</text>
<text transform="translate(463.560,55.917) scale(0.34655,0.32826)" font-size="50" fill="#151515" stroke="#151515" stroke-width="1.126">(b)</text>
<text transform="translate(462.646,115.800) scale(0.25119,0.25278)" font-size="50" fill="#2347f5" stroke="#2347f5" stroke-width="1.508">NiO</text>
<text transform="translate(442.078,151.568) scale(0.24057,0.22133)" font-size="50" fill="#1ec01e" stroke="#1ec01e" stroke-width="1.645">NiAl<tspan font-size="35" dy="10.6">2</tspan><tspan dy="-10.6">O</tspan><tspan font-size="35" dy="10.6">4</tspan></text>
<text transform="translate(378.721,181.600) scale(0.23933,0.26000)" font-size="50" fill="#f71d31" stroke="#f71d31" stroke-width="1.522">800 °C</text>
<text transform="translate(334.987,218.900) scale(0.23758,0.25714)" font-size="50" fill="#151515" stroke="#151515" stroke-width="1.536">100 °C</text>
<text transform="translate(381.158,224.098) scale(0.24214,0.24214)" font-size="50" fill="#151515" stroke="#151515" stroke-width="1.569">Al (4.0 nm)-Ni/SiO<tspan font-size="35" dy="9">2</tspan></text>
<text transform="translate(307.969,292.400) scale(0.34371,0.35000)" font-size="50" fill="#151515" stroke="#151515" stroke-width="1.096">Photon energy [eV]</text>
<text transform="translate(273.587,256.200) scale(0.34130,0.33348) rotate(-90)" font-size="50" fill="#151515" stroke="#151515" stroke-width="1.126">Normalized absorption [a.u.]</text>
<text transform="translate(730.614,55.774) scale(0.32857,0.33261)" font-size="50" fill="#151515" stroke="#151515" stroke-width="1.149">(c)</text>
<text transform="translate(559.671,63.800) scale(0.24286,0.25278)" font-size="50" fill="#151515" stroke="#151515" stroke-width="1.533">NiO</text>
<text transform="translate(559.772,244.445) scale(0.24253,0.24253)" font-size="50" fill="#f71d31" stroke="#f71d31" stroke-width="1.567">NiAl<tspan font-size="34.5" dy="8.3">2</tspan><tspan dy="-8.3">O</tspan><tspan font-size="34.5" dy="8.3">4</tspan></text>
<text transform="translate(523.778,238.586) scale(0.30217,0.29532) rotate(-90)" font-size="50" fill="#151515" stroke="#151515" stroke-width="1.272">LCF, fraction of Ni species</text>
<text transform="translate(587.789,291.900) scale(0.33687,0.36111)" font-size="50" fill="#151515" stroke="#151515" stroke-width="1.089">Number of Scan</text>
<text transform="translate(584.261,13.387) scale(0.33885,0.34130)" font-size="50" fill="#151515" stroke="#151515" stroke-width="1.117">Temperature [°C]</text>
</svg>
</body></html>
